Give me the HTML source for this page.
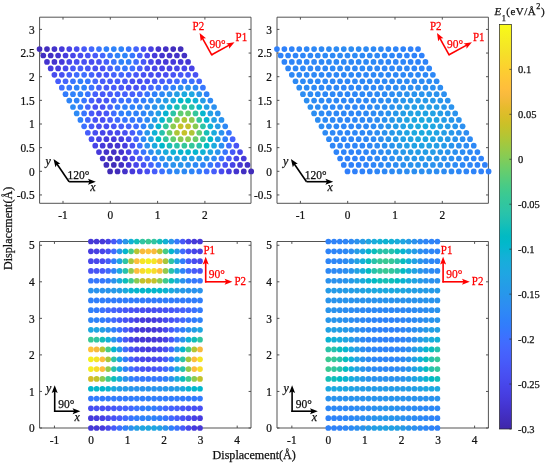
<!DOCTYPE html>
<html><head><meta charset="utf-8"><title>Figure</title>
<style>html,body{margin:0;padding:0;background:#fff}svg{display:block;font-family:"Liberation Serif",serif}text{stroke-width:0.25px;paint-order:stroke}.k text,text.k{stroke:#111;fill:#111}.r text{stroke:#f00}</style>
</head><body>
<svg width="550" height="465" viewBox="0 0 550 465">
<rect width="550" height="465" fill="#fff"/>
<path d="M39.60 17.20H251.00V203.30H39.60ZM63.00 203.30v-2.40M63.00 17.20v2.40M110.30 203.30v-2.40M110.30 17.20v2.40M157.60 203.30v-2.40M157.60 17.20v2.40M204.90 203.30v-2.40M204.90 17.20v2.40M39.60 194.95h2.40M251.00 194.95h-2.40M39.60 171.30h2.40M251.00 171.30h-2.40M39.60 147.65h2.40M251.00 147.65h-2.40M39.60 124.00h2.40M251.00 124.00h-2.40M39.60 100.35h2.40M251.00 100.35h-2.40M39.60 76.70h2.40M251.00 76.70h-2.40M39.60 53.05h2.40M251.00 53.05h-2.40M39.60 29.40h2.40M251.00 29.40h-2.40" fill="none" stroke="#4a4a4a" stroke-width="0.95"/>
<g class="k" font-size="12.20"><text transform="translate(63.00 219.40) scale(0.93 1)" text-anchor="middle">-1</text><text transform="translate(110.30 219.40) scale(0.93 1)" text-anchor="middle">0</text><text transform="translate(157.60 219.40) scale(0.93 1)" text-anchor="middle">1</text><text transform="translate(204.90 219.40) scale(0.93 1)" text-anchor="middle">2</text><text transform="translate(34.60 199.15) scale(0.93 1)" text-anchor="end">-0.5</text><text transform="translate(34.60 175.50) scale(0.93 1)" text-anchor="end">0</text><text transform="translate(34.60 151.85) scale(0.93 1)" text-anchor="end">0.5</text><text transform="translate(34.60 128.20) scale(0.93 1)" text-anchor="end">1</text><text transform="translate(34.60 104.55) scale(0.93 1)" text-anchor="end">1.5</text><text transform="translate(34.60 80.90) scale(0.93 1)" text-anchor="end">2</text><text transform="translate(34.60 57.25) scale(0.93 1)" text-anchor="end">2.5</text><text transform="translate(34.60 33.60) scale(0.93 1)" text-anchor="end">3</text></g>
<g><circle cx="110.10" cy="171.40" r="2.85" fill="#402bb6"/><circle cx="117.53" cy="171.40" r="2.85" fill="#412dbb"/><circle cx="124.95" cy="171.40" r="2.85" fill="#4332c9"/><circle cx="132.38" cy="171.40" r="2.85" fill="#4639da"/><circle cx="139.80" cy="171.40" r="2.85" fill="#4743e7"/><circle cx="147.23" cy="171.40" r="2.85" fill="#484ef1"/><circle cx="154.66" cy="171.40" r="2.85" fill="#465dfb"/><circle cx="162.08" cy="171.40" r="2.85" fill="#3d70ff"/><circle cx="169.51" cy="171.40" r="2.85" fill="#2f81fa"/><circle cx="176.93" cy="171.40" r="2.85" fill="#2d8af5"/><circle cx="184.36" cy="171.40" r="2.85" fill="#2d8af4"/><circle cx="191.79" cy="171.40" r="2.85" fill="#2e85f8"/><circle cx="199.21" cy="171.40" r="2.85" fill="#327cfc"/><circle cx="206.64" cy="171.40" r="2.85" fill="#3f6eff"/><circle cx="214.06" cy="171.40" r="2.85" fill="#465dfb"/><circle cx="221.49" cy="171.40" r="2.85" fill="#484cef"/><circle cx="228.92" cy="171.40" r="2.85" fill="#463ddf"/><circle cx="236.34" cy="171.40" r="2.85" fill="#4434ce"/><circle cx="243.77" cy="171.40" r="2.85" fill="#422fc2"/><circle cx="251.19" cy="171.40" r="2.85" fill="#412cba"/><circle cx="106.39" cy="164.96" r="2.85" fill="#412dbb"/><circle cx="113.81" cy="164.96" r="2.85" fill="#412cba"/><circle cx="121.24" cy="164.96" r="2.85" fill="#4330c5"/><circle cx="128.66" cy="164.96" r="2.85" fill="#4639d9"/><circle cx="136.09" cy="164.96" r="2.85" fill="#4746ea"/><circle cx="143.52" cy="164.96" r="2.85" fill="#4853f5"/><circle cx="150.94" cy="164.96" r="2.85" fill="#4563fd"/><circle cx="158.37" cy="164.96" r="2.85" fill="#3777fe"/><circle cx="165.79" cy="164.96" r="2.85" fill="#2d89f5"/><circle cx="173.22" cy="164.96" r="2.85" fill="#2a93ee"/><circle cx="180.65" cy="164.96" r="2.85" fill="#2994ed"/><circle cx="188.07" cy="164.96" r="2.85" fill="#2c90f0"/><circle cx="195.50" cy="164.96" r="2.85" fill="#2d8af5"/><circle cx="202.92" cy="164.96" r="2.85" fill="#2f83f9"/><circle cx="210.35" cy="164.96" r="2.85" fill="#3777fe"/><circle cx="217.78" cy="164.96" r="2.85" fill="#4466fd"/><circle cx="225.20" cy="164.96" r="2.85" fill="#4853f4"/><circle cx="232.63" cy="164.96" r="2.85" fill="#4742e6"/><circle cx="240.06" cy="164.96" r="2.85" fill="#4537d5"/><circle cx="247.48" cy="164.96" r="2.85" fill="#4330c5"/><circle cx="102.67" cy="158.52" r="2.85" fill="#4332c9"/><circle cx="110.10" cy="158.52" r="2.85" fill="#422ebf"/><circle cx="117.53" cy="158.52" r="2.85" fill="#422fc2"/><circle cx="124.95" cy="158.52" r="2.85" fill="#4537d5"/><circle cx="132.38" cy="158.52" r="2.85" fill="#4746ea"/><circle cx="139.80" cy="158.52" r="2.85" fill="#4759f8"/><circle cx="147.23" cy="158.52" r="2.85" fill="#406dfe"/><circle cx="154.66" cy="158.52" r="2.85" fill="#2f81fa"/><circle cx="162.08" cy="158.52" r="2.85" fill="#2b92ee"/><circle cx="169.51" cy="158.52" r="2.85" fill="#259de7"/><circle cx="176.93" cy="158.52" r="2.85" fill="#23a1e4"/><circle cx="184.36" cy="158.52" r="2.85" fill="#23a0e5"/><circle cx="191.79" cy="158.52" r="2.85" fill="#249ee6"/><circle cx="199.21" cy="158.52" r="2.85" fill="#259ce7"/><circle cx="206.64" cy="158.52" r="2.85" fill="#2796eb"/><circle cx="214.06" cy="158.52" r="2.85" fill="#2d89f5"/><circle cx="221.49" cy="158.52" r="2.85" fill="#3b72fe"/><circle cx="228.92" cy="158.52" r="2.85" fill="#475af9"/><circle cx="236.34" cy="158.52" r="2.85" fill="#4746ea"/><circle cx="243.77" cy="158.52" r="2.85" fill="#4639d9"/><circle cx="98.96" cy="152.09" r="2.85" fill="#4639da"/><circle cx="106.39" cy="152.09" r="2.85" fill="#4433cb"/><circle cx="113.81" cy="152.09" r="2.85" fill="#4330c5"/><circle cx="121.24" cy="152.09" r="2.85" fill="#4434ce"/><circle cx="128.66" cy="152.09" r="2.85" fill="#4742e6"/><circle cx="136.09" cy="152.09" r="2.85" fill="#475af9"/><circle cx="143.52" cy="152.09" r="2.85" fill="#3875fe"/><circle cx="150.94" cy="152.09" r="2.85" fill="#2c8ef1"/><circle cx="158.37" cy="152.09" r="2.85" fill="#239fe5"/><circle cx="165.79" cy="152.09" r="2.85" fill="#1aabdd"/><circle cx="173.22" cy="152.09" r="2.85" fill="#10b2d5"/><circle cx="180.65" cy="152.09" r="2.85" fill="#08b4d0"/><circle cx="188.07" cy="152.09" r="2.85" fill="#06b6ce"/><circle cx="195.50" cy="152.09" r="2.85" fill="#06b5cf"/><circle cx="202.92" cy="152.09" r="2.85" fill="#0fb2d5"/><circle cx="210.35" cy="152.09" r="2.85" fill="#1ea7e1"/><circle cx="217.78" cy="152.09" r="2.85" fill="#2a93ee"/><circle cx="225.20" cy="152.09" r="2.85" fill="#3875fe"/><circle cx="232.63" cy="152.09" r="2.85" fill="#4759f8"/><circle cx="240.05" cy="152.09" r="2.85" fill="#4746ea"/><circle cx="95.25" cy="145.65" r="2.85" fill="#4743e7"/><circle cx="102.67" cy="145.65" r="2.85" fill="#4639da"/><circle cx="110.10" cy="145.65" r="2.85" fill="#4434cf"/><circle cx="117.53" cy="145.65" r="2.85" fill="#4434cf"/><circle cx="124.95" cy="145.65" r="2.85" fill="#463ddf"/><circle cx="132.38" cy="145.65" r="2.85" fill="#4853f4"/><circle cx="139.80" cy="145.65" r="2.85" fill="#3b72fe"/><circle cx="147.23" cy="145.65" r="2.85" fill="#2a93ee"/><circle cx="154.66" cy="145.65" r="2.85" fill="#1caadf"/><circle cx="162.08" cy="145.65" r="2.85" fill="#01b8ca"/><circle cx="169.51" cy="145.65" r="2.85" fill="#17bfb6"/><circle cx="176.93" cy="145.65" r="2.85" fill="#2cc4a6"/><circle cx="184.36" cy="145.65" r="2.85" fill="#34c79b"/><circle cx="191.79" cy="145.65" r="2.85" fill="#34c79c"/><circle cx="199.21" cy="145.65" r="2.85" fill="#28c2ab"/><circle cx="206.64" cy="145.65" r="2.85" fill="#03bbc2"/><circle cx="214.06" cy="145.65" r="2.85" fill="#1caadf"/><circle cx="221.49" cy="145.65" r="2.85" fill="#2c8ef1"/><circle cx="228.92" cy="145.65" r="2.85" fill="#406dfe"/><circle cx="236.34" cy="145.65" r="2.85" fill="#4853f5"/><circle cx="91.53" cy="139.21" r="2.85" fill="#484ef1"/><circle cx="98.96" cy="139.21" r="2.85" fill="#4742e6"/><circle cx="106.39" cy="139.21" r="2.85" fill="#463cde"/><circle cx="113.81" cy="139.21" r="2.85" fill="#463adb"/><circle cx="121.24" cy="139.21" r="2.85" fill="#463ee1"/><circle cx="128.66" cy="139.21" r="2.85" fill="#484cef"/><circle cx="136.09" cy="139.21" r="2.85" fill="#4466fd"/><circle cx="143.52" cy="139.21" r="2.85" fill="#2d89f5"/><circle cx="150.94" cy="139.21" r="2.85" fill="#1ea7e1"/><circle cx="158.37" cy="139.21" r="2.85" fill="#03bbc2"/><circle cx="165.80" cy="139.21" r="2.85" fill="#32c69e"/><circle cx="173.22" cy="139.21" r="2.85" fill="#60cd72"/><circle cx="180.65" cy="139.21" r="2.85" fill="#88cb53"/><circle cx="188.07" cy="139.21" r="2.85" fill="#8dcb4f"/><circle cx="195.50" cy="139.21" r="2.85" fill="#6acd6a"/><circle cx="202.93" cy="139.21" r="2.85" fill="#32c69e"/><circle cx="210.35" cy="139.21" r="2.85" fill="#01b8ca"/><circle cx="217.78" cy="139.21" r="2.85" fill="#239fe5"/><circle cx="225.20" cy="139.21" r="2.85" fill="#2f81fa"/><circle cx="232.63" cy="139.21" r="2.85" fill="#4563fd"/><circle cx="87.82" cy="132.77" r="2.85" fill="#465dfb"/><circle cx="95.25" cy="132.77" r="2.85" fill="#484df0"/><circle cx="102.67" cy="132.77" r="2.85" fill="#4745e9"/><circle cx="110.10" cy="132.77" r="2.85" fill="#4746ea"/><circle cx="117.53" cy="132.77" r="2.85" fill="#4849ed"/><circle cx="124.95" cy="132.77" r="2.85" fill="#4850f2"/><circle cx="132.38" cy="132.77" r="2.85" fill="#465dfb"/><circle cx="139.80" cy="132.77" r="2.85" fill="#3777fe"/><circle cx="147.23" cy="132.77" r="2.85" fill="#2796eb"/><circle cx="154.66" cy="132.77" r="2.85" fill="#0fb2d5"/><circle cx="162.08" cy="132.77" r="2.85" fill="#28c2ab"/><circle cx="169.51" cy="132.77" r="2.85" fill="#6acd6a"/><circle cx="176.93" cy="132.77" r="2.85" fill="#aec637"/><circle cx="184.36" cy="132.77" r="2.85" fill="#c5c22a"/><circle cx="191.79" cy="132.77" r="2.85" fill="#aec637"/><circle cx="199.21" cy="132.77" r="2.85" fill="#60cd72"/><circle cx="206.64" cy="132.77" r="2.85" fill="#17bfb6"/><circle cx="214.06" cy="132.77" r="2.85" fill="#1aabdd"/><circle cx="221.49" cy="132.77" r="2.85" fill="#2b92ee"/><circle cx="228.92" cy="132.77" r="2.85" fill="#3777fe"/><circle cx="84.11" cy="126.33" r="2.85" fill="#3d70ff"/><circle cx="91.53" cy="126.33" r="2.85" fill="#4759f8"/><circle cx="98.96" cy="126.33" r="2.85" fill="#484df0"/><circle cx="106.39" cy="126.33" r="2.85" fill="#484ff2"/><circle cx="113.81" cy="126.33" r="2.85" fill="#4757f7"/><circle cx="121.24" cy="126.33" r="2.85" fill="#465ffb"/><circle cx="128.67" cy="126.33" r="2.85" fill="#4464fd"/><circle cx="136.09" cy="126.33" r="2.85" fill="#3f6eff"/><circle cx="143.52" cy="126.33" r="2.85" fill="#2f83f9"/><circle cx="150.94" cy="126.33" r="2.85" fill="#259ce7"/><circle cx="158.37" cy="126.33" r="2.85" fill="#06b5cf"/><circle cx="165.80" cy="126.33" r="2.85" fill="#34c79c"/><circle cx="173.22" cy="126.33" r="2.85" fill="#8dcb4f"/><circle cx="180.65" cy="126.33" r="2.85" fill="#c5c22a"/><circle cx="188.07" cy="126.33" r="2.85" fill="#c5c22a"/><circle cx="195.50" cy="126.33" r="2.85" fill="#88cb53"/><circle cx="202.93" cy="126.33" r="2.85" fill="#2cc4a6"/><circle cx="210.35" cy="126.33" r="2.85" fill="#10b2d5"/><circle cx="217.78" cy="126.33" r="2.85" fill="#259de7"/><circle cx="225.20" cy="126.33" r="2.85" fill="#2d89f5"/><circle cx="80.40" cy="119.90" r="2.85" fill="#2f81fa"/><circle cx="87.82" cy="119.90" r="2.85" fill="#4367fd"/><circle cx="95.25" cy="119.90" r="2.85" fill="#4853f5"/><circle cx="102.67" cy="119.90" r="2.85" fill="#4850f3"/><circle cx="110.10" cy="119.90" r="2.85" fill="#465dfb"/><circle cx="117.53" cy="119.90" r="2.85" fill="#3f6dfe"/><circle cx="124.95" cy="119.90" r="2.85" fill="#3875fe"/><circle cx="132.38" cy="119.90" r="2.85" fill="#3777fe"/><circle cx="139.80" cy="119.90" r="2.85" fill="#327cfc"/><circle cx="147.23" cy="119.90" r="2.85" fill="#2d8af5"/><circle cx="154.66" cy="119.90" r="2.85" fill="#249ee6"/><circle cx="162.08" cy="119.90" r="2.85" fill="#06b6ce"/><circle cx="169.51" cy="119.90" r="2.85" fill="#34c79b"/><circle cx="176.93" cy="119.90" r="2.85" fill="#88cb53"/><circle cx="184.36" cy="119.90" r="2.85" fill="#aec637"/><circle cx="191.79" cy="119.90" r="2.85" fill="#8dcb4f"/><circle cx="199.21" cy="119.90" r="2.85" fill="#34c79b"/><circle cx="206.64" cy="119.90" r="2.85" fill="#08b4d0"/><circle cx="214.06" cy="119.90" r="2.85" fill="#23a1e4"/><circle cx="221.49" cy="119.90" r="2.85" fill="#2a93ee"/><circle cx="76.68" cy="113.46" r="2.85" fill="#2d8af5"/><circle cx="84.11" cy="113.46" r="2.85" fill="#3975fe"/><circle cx="91.53" cy="113.46" r="2.85" fill="#475af9"/><circle cx="98.96" cy="113.46" r="2.85" fill="#484ef1"/><circle cx="106.39" cy="113.46" r="2.85" fill="#4758f8"/><circle cx="113.81" cy="113.46" r="2.85" fill="#3f6eff"/><circle cx="121.24" cy="113.46" r="2.85" fill="#307ffb"/><circle cx="128.66" cy="113.46" r="2.85" fill="#2e83f9"/><circle cx="136.09" cy="113.46" r="2.85" fill="#2f82fa"/><circle cx="143.52" cy="113.46" r="2.85" fill="#2e85f8"/><circle cx="150.94" cy="113.46" r="2.85" fill="#2c90f0"/><circle cx="158.37" cy="113.46" r="2.85" fill="#23a0e5"/><circle cx="165.79" cy="113.46" r="2.85" fill="#08b4d0"/><circle cx="173.22" cy="113.46" r="2.85" fill="#2cc4a6"/><circle cx="180.65" cy="113.46" r="2.85" fill="#60cd72"/><circle cx="188.07" cy="113.46" r="2.85" fill="#6acd6a"/><circle cx="195.50" cy="113.46" r="2.85" fill="#34c79c"/><circle cx="202.92" cy="113.46" r="2.85" fill="#06b6ce"/><circle cx="210.35" cy="113.46" r="2.85" fill="#23a0e5"/><circle cx="217.78" cy="113.46" r="2.85" fill="#2994ed"/><circle cx="72.97" cy="107.02" r="2.85" fill="#2d8af4"/><circle cx="80.40" cy="107.02" r="2.85" fill="#307ffb"/><circle cx="87.82" cy="107.02" r="2.85" fill="#4466fd"/><circle cx="95.25" cy="107.02" r="2.85" fill="#4851f3"/><circle cx="102.67" cy="107.02" r="2.85" fill="#4850f2"/><circle cx="110.10" cy="107.02" r="2.85" fill="#4562fc"/><circle cx="117.53" cy="107.02" r="2.85" fill="#3678fe"/><circle cx="124.95" cy="107.02" r="2.85" fill="#2f82fa"/><circle cx="132.38" cy="107.02" r="2.85" fill="#2f82fa"/><circle cx="139.80" cy="107.02" r="2.85" fill="#2e83f9"/><circle cx="147.23" cy="107.02" r="2.85" fill="#2d8af4"/><circle cx="154.66" cy="107.02" r="2.85" fill="#2994ed"/><circle cx="162.08" cy="107.02" r="2.85" fill="#23a1e4"/><circle cx="169.51" cy="107.02" r="2.85" fill="#10b2d5"/><circle cx="176.93" cy="107.02" r="2.85" fill="#17bfb6"/><circle cx="184.36" cy="107.02" r="2.85" fill="#32c69e"/><circle cx="191.79" cy="107.02" r="2.85" fill="#28c2ab"/><circle cx="199.21" cy="107.02" r="2.85" fill="#06b5cf"/><circle cx="206.64" cy="107.02" r="2.85" fill="#249ee6"/><circle cx="214.06" cy="107.02" r="2.85" fill="#2c90f0"/><circle cx="69.26" cy="100.58" r="2.85" fill="#2e85f8"/><circle cx="76.68" cy="100.58" r="2.85" fill="#2e83f9"/><circle cx="84.11" cy="100.58" r="2.85" fill="#3876fe"/><circle cx="91.53" cy="100.58" r="2.85" fill="#465ffb"/><circle cx="98.96" cy="100.58" r="2.85" fill="#4852f4"/><circle cx="106.39" cy="100.58" r="2.85" fill="#4757f7"/><circle cx="113.81" cy="100.58" r="2.85" fill="#4466fd"/><circle cx="121.24" cy="100.58" r="2.85" fill="#3c72ff"/><circle cx="128.66" cy="100.58" r="2.85" fill="#3a74fe"/><circle cx="136.09" cy="100.58" r="2.85" fill="#3876fe"/><circle cx="143.52" cy="100.58" r="2.85" fill="#307ffb"/><circle cx="150.94" cy="100.58" r="2.85" fill="#2d8af5"/><circle cx="158.37" cy="100.58" r="2.85" fill="#2a93ee"/><circle cx="165.79" cy="100.58" r="2.85" fill="#259de7"/><circle cx="173.22" cy="100.58" r="2.85" fill="#1aabdd"/><circle cx="180.65" cy="100.58" r="2.85" fill="#01b8ca"/><circle cx="188.07" cy="100.58" r="2.85" fill="#03bbc2"/><circle cx="195.50" cy="100.58" r="2.85" fill="#0fb2d5"/><circle cx="202.93" cy="100.58" r="2.85" fill="#259ce7"/><circle cx="210.35" cy="100.58" r="2.85" fill="#2d8af5"/><circle cx="65.54" cy="94.14" r="2.85" fill="#327cfc"/><circle cx="72.97" cy="94.14" r="2.85" fill="#2f82fa"/><circle cx="80.40" cy="94.14" r="2.85" fill="#2f82fa"/><circle cx="87.82" cy="94.14" r="2.85" fill="#3a74fe"/><circle cx="95.25" cy="94.14" r="2.85" fill="#4660fc"/><circle cx="102.67" cy="94.14" r="2.85" fill="#4758f8"/><circle cx="110.10" cy="94.14" r="2.85" fill="#475cfa"/><circle cx="117.53" cy="94.14" r="2.85" fill="#4561fc"/><circle cx="124.95" cy="94.14" r="2.85" fill="#4660fc"/><circle cx="132.38" cy="94.14" r="2.85" fill="#465ffb"/><circle cx="139.80" cy="94.14" r="2.85" fill="#4466fd"/><circle cx="147.23" cy="94.14" r="2.85" fill="#3975fe"/><circle cx="154.66" cy="94.14" r="2.85" fill="#2f81fa"/><circle cx="162.08" cy="94.14" r="2.85" fill="#2d89f5"/><circle cx="169.51" cy="94.14" r="2.85" fill="#2b92ee"/><circle cx="176.93" cy="94.14" r="2.85" fill="#239fe5"/><circle cx="184.36" cy="94.14" r="2.85" fill="#1caadf"/><circle cx="191.79" cy="94.14" r="2.85" fill="#1ea7e1"/><circle cx="199.21" cy="94.14" r="2.85" fill="#2796eb"/><circle cx="206.64" cy="94.14" r="2.85" fill="#2f83f9"/><circle cx="61.83" cy="87.71" r="2.85" fill="#3f6eff"/><circle cx="69.26" cy="87.71" r="2.85" fill="#3777fe"/><circle cx="76.68" cy="87.71" r="2.85" fill="#2e83f9"/><circle cx="84.11" cy="87.71" r="2.85" fill="#2f82fa"/><circle cx="91.53" cy="87.71" r="2.85" fill="#3c72ff"/><circle cx="98.96" cy="87.71" r="2.85" fill="#4561fc"/><circle cx="106.39" cy="87.71" r="2.85" fill="#475bf9"/><circle cx="113.81" cy="87.71" r="2.85" fill="#475bf9"/><circle cx="121.24" cy="87.71" r="2.85" fill="#4758f8"/><circle cx="128.66" cy="87.71" r="2.85" fill="#4852f4"/><circle cx="136.09" cy="87.71" r="2.85" fill="#4851f3"/><circle cx="143.52" cy="87.71" r="2.85" fill="#475af9"/><circle cx="150.94" cy="87.71" r="2.85" fill="#4367fd"/><circle cx="158.37" cy="87.71" r="2.85" fill="#3d70ff"/><circle cx="165.79" cy="87.71" r="2.85" fill="#3777fe"/><circle cx="173.22" cy="87.71" r="2.85" fill="#2f81fa"/><circle cx="180.65" cy="87.71" r="2.85" fill="#2c8ef1"/><circle cx="188.07" cy="87.71" r="2.85" fill="#2a93ee"/><circle cx="195.50" cy="87.71" r="2.85" fill="#2d89f5"/><circle cx="202.92" cy="87.71" r="2.85" fill="#3777fe"/><circle cx="58.12" cy="81.27" r="2.85" fill="#465dfb"/><circle cx="65.54" cy="81.27" r="2.85" fill="#4464fd"/><circle cx="72.97" cy="81.27" r="2.85" fill="#3875fe"/><circle cx="80.40" cy="81.27" r="2.85" fill="#307ffb"/><circle cx="87.82" cy="81.27" r="2.85" fill="#3678fe"/><circle cx="95.25" cy="81.27" r="2.85" fill="#4466fd"/><circle cx="102.67" cy="81.27" r="2.85" fill="#475cfa"/><circle cx="110.10" cy="81.27" r="2.85" fill="#475bf9"/><circle cx="117.53" cy="81.27" r="2.85" fill="#475cfa"/><circle cx="124.95" cy="81.27" r="2.85" fill="#4757f7"/><circle cx="132.38" cy="81.27" r="2.85" fill="#4850f2"/><circle cx="139.80" cy="81.27" r="2.85" fill="#484ef1"/><circle cx="147.23" cy="81.27" r="2.85" fill="#4853f5"/><circle cx="154.66" cy="81.27" r="2.85" fill="#4759f8"/><circle cx="162.08" cy="81.27" r="2.85" fill="#465dfb"/><circle cx="169.51" cy="81.27" r="2.85" fill="#4563fd"/><circle cx="176.93" cy="81.27" r="2.85" fill="#406dfe"/><circle cx="184.36" cy="81.27" r="2.85" fill="#3875fe"/><circle cx="191.79" cy="81.27" r="2.85" fill="#3b72fe"/><circle cx="199.21" cy="81.27" r="2.85" fill="#4466fd"/><circle cx="54.40" cy="74.83" r="2.85" fill="#484cef"/><circle cx="61.83" cy="74.83" r="2.85" fill="#4850f2"/><circle cx="69.26" cy="74.83" r="2.85" fill="#465ffb"/><circle cx="76.68" cy="74.83" r="2.85" fill="#3f6dfe"/><circle cx="84.11" cy="74.83" r="2.85" fill="#3f6eff"/><circle cx="91.53" cy="74.83" r="2.85" fill="#4562fc"/><circle cx="98.96" cy="74.83" r="2.85" fill="#4757f7"/><circle cx="106.39" cy="74.83" r="2.85" fill="#4758f8"/><circle cx="113.81" cy="74.83" r="2.85" fill="#4561fc"/><circle cx="121.24" cy="74.83" r="2.85" fill="#4466fd"/><circle cx="128.67" cy="74.83" r="2.85" fill="#4562fc"/><circle cx="136.09" cy="74.83" r="2.85" fill="#4758f8"/><circle cx="143.52" cy="74.83" r="2.85" fill="#4850f3"/><circle cx="150.94" cy="74.83" r="2.85" fill="#484df0"/><circle cx="158.37" cy="74.83" r="2.85" fill="#484df0"/><circle cx="165.80" cy="74.83" r="2.85" fill="#484ef1"/><circle cx="173.22" cy="74.83" r="2.85" fill="#4853f5"/><circle cx="180.65" cy="74.83" r="2.85" fill="#4759f8"/><circle cx="188.07" cy="74.83" r="2.85" fill="#475af9"/><circle cx="195.50" cy="74.83" r="2.85" fill="#4853f4"/><circle cx="50.69" cy="68.39" r="2.85" fill="#463ddf"/><circle cx="58.12" cy="68.39" r="2.85" fill="#463ee1"/><circle cx="65.54" cy="68.39" r="2.85" fill="#4849ed"/><circle cx="72.97" cy="68.39" r="2.85" fill="#4757f7"/><circle cx="80.40" cy="68.39" r="2.85" fill="#465dfb"/><circle cx="87.82" cy="68.39" r="2.85" fill="#4758f8"/><circle cx="95.25" cy="68.39" r="2.85" fill="#4850f2"/><circle cx="102.67" cy="68.39" r="2.85" fill="#4852f4"/><circle cx="110.10" cy="68.39" r="2.85" fill="#4660fc"/><circle cx="117.53" cy="68.39" r="2.85" fill="#3c72ff"/><circle cx="124.95" cy="68.39" r="2.85" fill="#3678fe"/><circle cx="132.38" cy="68.39" r="2.85" fill="#3f6eff"/><circle cx="139.80" cy="68.39" r="2.85" fill="#465dfb"/><circle cx="147.23" cy="68.39" r="2.85" fill="#484ff2"/><circle cx="154.66" cy="68.39" r="2.85" fill="#4745e9"/><circle cx="162.08" cy="68.39" r="2.85" fill="#4742e6"/><circle cx="169.51" cy="68.39" r="2.85" fill="#4743e7"/><circle cx="176.93" cy="68.39" r="2.85" fill="#4746ea"/><circle cx="184.36" cy="68.39" r="2.85" fill="#4746ea"/><circle cx="191.79" cy="68.39" r="2.85" fill="#4742e6"/><circle cx="46.98" cy="61.95" r="2.85" fill="#4434ce"/><circle cx="54.40" cy="61.95" r="2.85" fill="#4434cf"/><circle cx="61.83" cy="61.95" r="2.85" fill="#463adb"/><circle cx="69.26" cy="61.95" r="2.85" fill="#4746ea"/><circle cx="76.68" cy="61.95" r="2.85" fill="#484ff2"/><circle cx="84.11" cy="61.95" r="2.85" fill="#4850f3"/><circle cx="91.53" cy="61.95" r="2.85" fill="#484ef1"/><circle cx="98.96" cy="61.95" r="2.85" fill="#4851f3"/><circle cx="106.39" cy="61.95" r="2.85" fill="#465ffb"/><circle cx="113.81" cy="61.95" r="2.85" fill="#3a74fe"/><circle cx="121.24" cy="61.95" r="2.85" fill="#2f82fa"/><circle cx="128.66" cy="61.95" r="2.85" fill="#307ffb"/><circle cx="136.09" cy="61.95" r="2.85" fill="#3f6dfe"/><circle cx="143.52" cy="61.95" r="2.85" fill="#4757f7"/><circle cx="150.94" cy="61.95" r="2.85" fill="#4746ea"/><circle cx="158.37" cy="61.95" r="2.85" fill="#463cde"/><circle cx="165.79" cy="61.95" r="2.85" fill="#4639da"/><circle cx="173.22" cy="61.95" r="2.85" fill="#4639da"/><circle cx="180.65" cy="61.95" r="2.85" fill="#4639d9"/><circle cx="188.07" cy="61.95" r="2.85" fill="#4537d5"/><circle cx="43.27" cy="55.52" r="2.85" fill="#422fc2"/><circle cx="50.69" cy="55.52" r="2.85" fill="#4330c5"/><circle cx="58.12" cy="55.52" r="2.85" fill="#4434cf"/><circle cx="65.54" cy="55.52" r="2.85" fill="#463cde"/><circle cx="72.97" cy="55.52" r="2.85" fill="#4745e9"/><circle cx="80.40" cy="55.52" r="2.85" fill="#484df0"/><circle cx="87.82" cy="55.52" r="2.85" fill="#4853f5"/><circle cx="95.25" cy="55.52" r="2.85" fill="#475af9"/><circle cx="102.67" cy="55.52" r="2.85" fill="#4466fd"/><circle cx="110.10" cy="55.52" r="2.85" fill="#3876fe"/><circle cx="117.53" cy="55.52" r="2.85" fill="#2f82fa"/><circle cx="124.95" cy="55.52" r="2.85" fill="#2e83f9"/><circle cx="132.38" cy="55.52" r="2.85" fill="#3875fe"/><circle cx="139.80" cy="55.52" r="2.85" fill="#465ffb"/><circle cx="147.23" cy="55.52" r="2.85" fill="#4849ed"/><circle cx="154.66" cy="55.52" r="2.85" fill="#463adb"/><circle cx="162.08" cy="55.52" r="2.85" fill="#4434cf"/><circle cx="169.51" cy="55.52" r="2.85" fill="#4433cb"/><circle cx="176.93" cy="55.52" r="2.85" fill="#4332c9"/><circle cx="184.36" cy="55.52" r="2.85" fill="#4330c5"/><circle cx="39.55" cy="49.08" r="2.85" fill="#412cba"/><circle cx="46.98" cy="49.08" r="2.85" fill="#422ebf"/><circle cx="54.41" cy="49.08" r="2.85" fill="#4433cb"/><circle cx="61.83" cy="49.08" r="2.85" fill="#4639da"/><circle cx="69.26" cy="49.08" r="2.85" fill="#4742e6"/><circle cx="76.68" cy="49.08" r="2.85" fill="#484df0"/><circle cx="84.11" cy="49.08" r="2.85" fill="#4759f8"/><circle cx="91.53" cy="49.08" r="2.85" fill="#4367fd"/><circle cx="98.96" cy="49.08" r="2.85" fill="#3975fe"/><circle cx="106.39" cy="49.08" r="2.85" fill="#307ffb"/><circle cx="113.81" cy="49.08" r="2.85" fill="#2e83f9"/><circle cx="121.24" cy="49.08" r="2.85" fill="#2f82fa"/><circle cx="128.66" cy="49.08" r="2.85" fill="#3777fe"/><circle cx="136.09" cy="49.08" r="2.85" fill="#4464fd"/><circle cx="143.52" cy="49.08" r="2.85" fill="#4850f2"/><circle cx="150.94" cy="49.08" r="2.85" fill="#463ee1"/><circle cx="158.37" cy="49.08" r="2.85" fill="#4434cf"/><circle cx="165.79" cy="49.08" r="2.85" fill="#4330c5"/><circle cx="173.22" cy="49.08" r="2.85" fill="#422ebf"/><circle cx="180.65" cy="49.08" r="2.85" fill="#412dbb"/></g>
<path d="M277.00 17.20H488.40V203.30H277.00ZM300.40 203.30v-2.40M300.40 17.20v2.40M347.70 203.30v-2.40M347.70 17.20v2.40M395.00 203.30v-2.40M395.00 17.20v2.40M442.30 203.30v-2.40M442.30 17.20v2.40M277.00 194.95h2.40M488.40 194.95h-2.40M277.00 171.30h2.40M488.40 171.30h-2.40M277.00 147.65h2.40M488.40 147.65h-2.40M277.00 124.00h2.40M488.40 124.00h-2.40M277.00 100.35h2.40M488.40 100.35h-2.40M277.00 76.70h2.40M488.40 76.70h-2.40M277.00 53.05h2.40M488.40 53.05h-2.40M277.00 29.40h2.40M488.40 29.40h-2.40" fill="none" stroke="#4a4a4a" stroke-width="0.95"/>
<g class="k" font-size="12.20"><text transform="translate(300.40 219.40) scale(0.93 1)" text-anchor="middle">-1</text><text transform="translate(347.70 219.40) scale(0.93 1)" text-anchor="middle">0</text><text transform="translate(395.00 219.40) scale(0.93 1)" text-anchor="middle">1</text><text transform="translate(442.30 219.40) scale(0.93 1)" text-anchor="middle">2</text><text transform="translate(272.00 199.15) scale(0.93 1)" text-anchor="end">-0.5</text><text transform="translate(272.00 175.50) scale(0.93 1)" text-anchor="end">0</text><text transform="translate(272.00 151.85) scale(0.93 1)" text-anchor="end">0.5</text><text transform="translate(272.00 128.20) scale(0.93 1)" text-anchor="end">1</text><text transform="translate(272.00 104.55) scale(0.93 1)" text-anchor="end">1.5</text><text transform="translate(272.00 80.90) scale(0.93 1)" text-anchor="end">2</text><text transform="translate(272.00 57.25) scale(0.93 1)" text-anchor="end">2.5</text><text transform="translate(272.00 33.60) scale(0.93 1)" text-anchor="end">3</text></g>
<g><circle cx="347.50" cy="171.40" r="2.85" fill="#307ffb"/><circle cx="354.93" cy="171.40" r="2.85" fill="#2f80fa"/><circle cx="362.35" cy="171.40" r="2.85" fill="#2f82fa"/><circle cx="369.78" cy="171.40" r="2.85" fill="#2e84f9"/><circle cx="377.20" cy="171.40" r="2.85" fill="#2e86f7"/><circle cx="384.63" cy="171.40" r="2.85" fill="#2d88f6"/><circle cx="392.06" cy="171.40" r="2.85" fill="#2d8af4"/><circle cx="399.48" cy="171.40" r="2.85" fill="#2d8cf3"/><circle cx="406.91" cy="171.40" r="2.85" fill="#2d8df2"/><circle cx="414.33" cy="171.40" r="2.85" fill="#2c8ef1"/><circle cx="421.76" cy="171.40" r="2.85" fill="#2c8ff1"/><circle cx="429.19" cy="171.40" r="2.85" fill="#2c8ef1"/><circle cx="436.61" cy="171.40" r="2.85" fill="#2d8df2"/><circle cx="444.04" cy="171.40" r="2.85" fill="#2d8cf3"/><circle cx="451.46" cy="171.40" r="2.85" fill="#2d8af4"/><circle cx="458.89" cy="171.40" r="2.85" fill="#2d88f6"/><circle cx="466.32" cy="171.40" r="2.85" fill="#2e86f7"/><circle cx="473.74" cy="171.40" r="2.85" fill="#2e84f9"/><circle cx="481.17" cy="171.40" r="2.85" fill="#2f82fa"/><circle cx="488.59" cy="171.40" r="2.85" fill="#2f80fa"/><circle cx="343.79" cy="164.96" r="2.85" fill="#2f80fa"/><circle cx="351.21" cy="164.96" r="2.85" fill="#2f80fa"/><circle cx="358.64" cy="164.96" r="2.85" fill="#2f81fa"/><circle cx="366.06" cy="164.96" r="2.85" fill="#2e83f9"/><circle cx="373.49" cy="164.96" r="2.85" fill="#2e86f8"/><circle cx="380.92" cy="164.96" r="2.85" fill="#2d88f6"/><circle cx="388.34" cy="164.96" r="2.85" fill="#2d8bf4"/><circle cx="395.77" cy="164.96" r="2.85" fill="#2d8df2"/><circle cx="403.19" cy="164.96" r="2.85" fill="#2c90f0"/><circle cx="410.62" cy="164.96" r="2.85" fill="#2b92ee"/><circle cx="418.05" cy="164.96" r="2.85" fill="#2a93ee"/><circle cx="425.47" cy="164.96" r="2.85" fill="#2a93ee"/><circle cx="432.90" cy="164.96" r="2.85" fill="#2b92ee"/><circle cx="440.32" cy="164.96" r="2.85" fill="#2c90f0"/><circle cx="447.75" cy="164.96" r="2.85" fill="#2d8df2"/><circle cx="455.18" cy="164.96" r="2.85" fill="#2d8bf4"/><circle cx="462.60" cy="164.96" r="2.85" fill="#2d88f6"/><circle cx="470.03" cy="164.96" r="2.85" fill="#2e86f8"/><circle cx="477.45" cy="164.96" r="2.85" fill="#2e83f9"/><circle cx="484.88" cy="164.96" r="2.85" fill="#2f81fa"/><circle cx="340.07" cy="158.52" r="2.85" fill="#2f82fa"/><circle cx="347.50" cy="158.52" r="2.85" fill="#2f81fa"/><circle cx="354.93" cy="158.52" r="2.85" fill="#2f82fa"/><circle cx="362.35" cy="158.52" r="2.85" fill="#2e83f9"/><circle cx="369.78" cy="158.52" r="2.85" fill="#2e86f8"/><circle cx="377.20" cy="158.52" r="2.85" fill="#2d88f6"/><circle cx="384.63" cy="158.52" r="2.85" fill="#2d8bf3"/><circle cx="392.06" cy="158.52" r="2.85" fill="#2c8ff1"/><circle cx="399.48" cy="158.52" r="2.85" fill="#2b92ee"/><circle cx="406.91" cy="158.52" r="2.85" fill="#2895ec"/><circle cx="414.33" cy="158.52" r="2.85" fill="#2797ea"/><circle cx="421.76" cy="158.52" r="2.85" fill="#2798ea"/><circle cx="429.19" cy="158.52" r="2.85" fill="#2797ea"/><circle cx="436.61" cy="158.52" r="2.85" fill="#2895ec"/><circle cx="444.04" cy="158.52" r="2.85" fill="#2b92ee"/><circle cx="451.46" cy="158.52" r="2.85" fill="#2c8ff1"/><circle cx="458.89" cy="158.52" r="2.85" fill="#2d8bf3"/><circle cx="466.32" cy="158.52" r="2.85" fill="#2d88f6"/><circle cx="473.74" cy="158.52" r="2.85" fill="#2e86f8"/><circle cx="481.17" cy="158.52" r="2.85" fill="#2e83f9"/><circle cx="336.36" cy="152.09" r="2.85" fill="#2e84f9"/><circle cx="343.79" cy="152.09" r="2.85" fill="#2e83f9"/><circle cx="351.21" cy="152.09" r="2.85" fill="#2e83f9"/><circle cx="358.64" cy="152.09" r="2.85" fill="#2e84f9"/><circle cx="366.06" cy="152.09" r="2.85" fill="#2e86f8"/><circle cx="373.49" cy="152.09" r="2.85" fill="#2d88f6"/><circle cx="380.92" cy="152.09" r="2.85" fill="#2d8cf3"/><circle cx="388.34" cy="152.09" r="2.85" fill="#2c8ff0"/><circle cx="395.77" cy="152.09" r="2.85" fill="#2994ed"/><circle cx="403.19" cy="152.09" r="2.85" fill="#2798ea"/><circle cx="410.62" cy="152.09" r="2.85" fill="#259ce7"/><circle cx="418.05" cy="152.09" r="2.85" fill="#249de6"/><circle cx="425.47" cy="152.09" r="2.85" fill="#249de6"/><circle cx="432.90" cy="152.09" r="2.85" fill="#259ce7"/><circle cx="440.32" cy="152.09" r="2.85" fill="#2798ea"/><circle cx="447.75" cy="152.09" r="2.85" fill="#2994ed"/><circle cx="455.18" cy="152.09" r="2.85" fill="#2c8ff0"/><circle cx="462.60" cy="152.09" r="2.85" fill="#2d8cf3"/><circle cx="470.03" cy="152.09" r="2.85" fill="#2d88f6"/><circle cx="477.45" cy="152.09" r="2.85" fill="#2e86f8"/><circle cx="332.65" cy="145.65" r="2.85" fill="#2e86f7"/><circle cx="340.07" cy="145.65" r="2.85" fill="#2e85f8"/><circle cx="347.50" cy="145.65" r="2.85" fill="#2e84f8"/><circle cx="354.93" cy="145.65" r="2.85" fill="#2e85f8"/><circle cx="362.35" cy="145.65" r="2.85" fill="#2e86f7"/><circle cx="369.78" cy="145.65" r="2.85" fill="#2d88f6"/><circle cx="377.20" cy="145.65" r="2.85" fill="#2d8bf3"/><circle cx="384.63" cy="145.65" r="2.85" fill="#2c8ff0"/><circle cx="392.06" cy="145.65" r="2.85" fill="#2994ed"/><circle cx="399.48" cy="145.65" r="2.85" fill="#269ae9"/><circle cx="406.91" cy="145.65" r="2.85" fill="#249ee6"/><circle cx="414.33" cy="145.65" r="2.85" fill="#22a2e4"/><circle cx="421.76" cy="145.65" r="2.85" fill="#21a3e3"/><circle cx="429.19" cy="145.65" r="2.85" fill="#22a2e4"/><circle cx="436.61" cy="145.65" r="2.85" fill="#249ee6"/><circle cx="444.04" cy="145.65" r="2.85" fill="#269ae9"/><circle cx="451.46" cy="145.65" r="2.85" fill="#2994ed"/><circle cx="458.89" cy="145.65" r="2.85" fill="#2c8ff0"/><circle cx="466.32" cy="145.65" r="2.85" fill="#2d8bf3"/><circle cx="473.74" cy="145.65" r="2.85" fill="#2d88f6"/><circle cx="328.94" cy="139.21" r="2.85" fill="#2d88f6"/><circle cx="336.36" cy="139.21" r="2.85" fill="#2e87f7"/><circle cx="343.79" cy="139.21" r="2.85" fill="#2e86f8"/><circle cx="351.21" cy="139.21" r="2.85" fill="#2e86f8"/><circle cx="358.64" cy="139.21" r="2.85" fill="#2e87f7"/><circle cx="366.06" cy="139.21" r="2.85" fill="#2d88f6"/><circle cx="373.49" cy="139.21" r="2.85" fill="#2d8bf4"/><circle cx="380.92" cy="139.21" r="2.85" fill="#2c8ff1"/><circle cx="388.34" cy="139.21" r="2.85" fill="#2994ed"/><circle cx="395.77" cy="139.21" r="2.85" fill="#269ae9"/><circle cx="403.19" cy="139.21" r="2.85" fill="#23a0e5"/><circle cx="410.62" cy="139.21" r="2.85" fill="#20a4e3"/><circle cx="418.05" cy="139.21" r="2.85" fill="#1ea7e1"/><circle cx="425.47" cy="139.21" r="2.85" fill="#1ea7e1"/><circle cx="432.90" cy="139.21" r="2.85" fill="#20a4e3"/><circle cx="440.32" cy="139.21" r="2.85" fill="#23a0e5"/><circle cx="447.75" cy="139.21" r="2.85" fill="#269ae9"/><circle cx="455.18" cy="139.21" r="2.85" fill="#2994ed"/><circle cx="462.60" cy="139.21" r="2.85" fill="#2c8ff1"/><circle cx="470.03" cy="139.21" r="2.85" fill="#2d8bf4"/><circle cx="325.22" cy="132.77" r="2.85" fill="#2d8af4"/><circle cx="332.65" cy="132.77" r="2.85" fill="#2d88f6"/><circle cx="340.07" cy="132.77" r="2.85" fill="#2e87f7"/><circle cx="347.50" cy="132.77" r="2.85" fill="#2e86f7"/><circle cx="354.93" cy="132.77" r="2.85" fill="#2e87f7"/><circle cx="362.35" cy="132.77" r="2.85" fill="#2d88f6"/><circle cx="369.78" cy="132.77" r="2.85" fill="#2d8af4"/><circle cx="377.20" cy="132.77" r="2.85" fill="#2d8df2"/><circle cx="384.63" cy="132.77" r="2.85" fill="#2b92ee"/><circle cx="392.06" cy="132.77" r="2.85" fill="#2798ea"/><circle cx="399.48" cy="132.77" r="2.85" fill="#249ee6"/><circle cx="406.91" cy="132.77" r="2.85" fill="#20a4e3"/><circle cx="414.33" cy="132.77" r="2.85" fill="#1da9e0"/><circle cx="421.76" cy="132.77" r="2.85" fill="#1baadf"/><circle cx="429.19" cy="132.77" r="2.85" fill="#1da9e0"/><circle cx="436.61" cy="132.77" r="2.85" fill="#20a4e3"/><circle cx="444.04" cy="132.77" r="2.85" fill="#249ee6"/><circle cx="451.46" cy="132.77" r="2.85" fill="#2798ea"/><circle cx="458.89" cy="132.77" r="2.85" fill="#2b92ee"/><circle cx="466.32" cy="132.77" r="2.85" fill="#2d8df2"/><circle cx="321.51" cy="126.33" r="2.85" fill="#2d8cf3"/><circle cx="328.94" cy="126.33" r="2.85" fill="#2d89f5"/><circle cx="336.36" cy="126.33" r="2.85" fill="#2d88f6"/><circle cx="343.79" cy="126.33" r="2.85" fill="#2e87f7"/><circle cx="351.21" cy="126.33" r="2.85" fill="#2e87f7"/><circle cx="358.64" cy="126.33" r="2.85" fill="#2d88f6"/><circle cx="366.06" cy="126.33" r="2.85" fill="#2d89f5"/><circle cx="373.49" cy="126.33" r="2.85" fill="#2d8cf3"/><circle cx="380.92" cy="126.33" r="2.85" fill="#2c90f0"/><circle cx="388.34" cy="126.33" r="2.85" fill="#2895ec"/><circle cx="395.77" cy="126.33" r="2.85" fill="#259ce7"/><circle cx="403.20" cy="126.33" r="2.85" fill="#22a2e4"/><circle cx="410.62" cy="126.33" r="2.85" fill="#1ea7e1"/><circle cx="418.05" cy="126.33" r="2.85" fill="#1baadf"/><circle cx="425.47" cy="126.33" r="2.85" fill="#1baadf"/><circle cx="432.90" cy="126.33" r="2.85" fill="#1ea7e1"/><circle cx="440.33" cy="126.33" r="2.85" fill="#22a2e4"/><circle cx="447.75" cy="126.33" r="2.85" fill="#259ce7"/><circle cx="455.18" cy="126.33" r="2.85" fill="#2895ec"/><circle cx="462.60" cy="126.33" r="2.85" fill="#2c90f0"/><circle cx="317.80" cy="119.90" r="2.85" fill="#2d8df2"/><circle cx="325.22" cy="119.90" r="2.85" fill="#2d8af4"/><circle cx="332.65" cy="119.90" r="2.85" fill="#2d89f6"/><circle cx="340.07" cy="119.90" r="2.85" fill="#2d88f6"/><circle cx="347.50" cy="119.90" r="2.85" fill="#2e87f7"/><circle cx="354.93" cy="119.90" r="2.85" fill="#2d88f6"/><circle cx="362.35" cy="119.90" r="2.85" fill="#2d89f6"/><circle cx="369.78" cy="119.90" r="2.85" fill="#2d8af4"/><circle cx="377.20" cy="119.90" r="2.85" fill="#2d8df2"/><circle cx="384.63" cy="119.90" r="2.85" fill="#2b92ee"/><circle cx="392.06" cy="119.90" r="2.85" fill="#2797ea"/><circle cx="399.48" cy="119.90" r="2.85" fill="#249de6"/><circle cx="406.91" cy="119.90" r="2.85" fill="#21a3e3"/><circle cx="414.33" cy="119.90" r="2.85" fill="#1ea7e1"/><circle cx="421.76" cy="119.90" r="2.85" fill="#1da9e0"/><circle cx="429.19" cy="119.90" r="2.85" fill="#1ea7e1"/><circle cx="436.61" cy="119.90" r="2.85" fill="#21a3e3"/><circle cx="444.04" cy="119.90" r="2.85" fill="#249de6"/><circle cx="451.46" cy="119.90" r="2.85" fill="#2797ea"/><circle cx="458.89" cy="119.90" r="2.85" fill="#2b92ee"/><circle cx="314.08" cy="113.46" r="2.85" fill="#2c8ef1"/><circle cx="321.51" cy="113.46" r="2.85" fill="#2d8bf4"/><circle cx="328.93" cy="113.46" r="2.85" fill="#2d89f5"/><circle cx="336.36" cy="113.46" r="2.85" fill="#2d88f6"/><circle cx="343.79" cy="113.46" r="2.85" fill="#2d87f6"/><circle cx="351.21" cy="113.46" r="2.85" fill="#2d87f6"/><circle cx="358.64" cy="113.46" r="2.85" fill="#2d88f6"/><circle cx="366.06" cy="113.46" r="2.85" fill="#2d89f5"/><circle cx="373.49" cy="113.46" r="2.85" fill="#2d8bf4"/><circle cx="380.92" cy="113.46" r="2.85" fill="#2c8ef1"/><circle cx="388.34" cy="113.46" r="2.85" fill="#2a93ee"/><circle cx="395.77" cy="113.46" r="2.85" fill="#2798ea"/><circle cx="403.19" cy="113.46" r="2.85" fill="#249de6"/><circle cx="410.62" cy="113.46" r="2.85" fill="#22a2e4"/><circle cx="418.05" cy="113.46" r="2.85" fill="#20a4e3"/><circle cx="425.47" cy="113.46" r="2.85" fill="#20a4e3"/><circle cx="432.90" cy="113.46" r="2.85" fill="#22a2e4"/><circle cx="440.33" cy="113.46" r="2.85" fill="#249de6"/><circle cx="447.75" cy="113.46" r="2.85" fill="#2798ea"/><circle cx="455.18" cy="113.46" r="2.85" fill="#2a93ee"/><circle cx="310.37" cy="107.02" r="2.85" fill="#2c8ff1"/><circle cx="317.80" cy="107.02" r="2.85" fill="#2d8cf3"/><circle cx="325.22" cy="107.02" r="2.85" fill="#2d8af5"/><circle cx="332.65" cy="107.02" r="2.85" fill="#2d88f6"/><circle cx="340.07" cy="107.02" r="2.85" fill="#2d88f6"/><circle cx="347.50" cy="107.02" r="2.85" fill="#2d87f7"/><circle cx="354.93" cy="107.02" r="2.85" fill="#2d88f6"/><circle cx="362.35" cy="107.02" r="2.85" fill="#2d88f6"/><circle cx="369.78" cy="107.02" r="2.85" fill="#2d8af5"/><circle cx="377.20" cy="107.02" r="2.85" fill="#2d8cf3"/><circle cx="384.63" cy="107.02" r="2.85" fill="#2c8ff1"/><circle cx="392.06" cy="107.02" r="2.85" fill="#2a93ee"/><circle cx="399.48" cy="107.02" r="2.85" fill="#2797ea"/><circle cx="406.91" cy="107.02" r="2.85" fill="#259ce7"/><circle cx="414.33" cy="107.02" r="2.85" fill="#249ee6"/><circle cx="421.76" cy="107.02" r="2.85" fill="#23a0e5"/><circle cx="429.19" cy="107.02" r="2.85" fill="#249ee6"/><circle cx="436.61" cy="107.02" r="2.85" fill="#259ce7"/><circle cx="444.04" cy="107.02" r="2.85" fill="#2797ea"/><circle cx="451.46" cy="107.02" r="2.85" fill="#2a93ee"/><circle cx="306.66" cy="100.58" r="2.85" fill="#2c8ef1"/><circle cx="314.08" cy="100.58" r="2.85" fill="#2d8cf3"/><circle cx="321.51" cy="100.58" r="2.85" fill="#2d8af5"/><circle cx="328.94" cy="100.58" r="2.85" fill="#2d88f6"/><circle cx="336.36" cy="100.58" r="2.85" fill="#2d88f6"/><circle cx="343.79" cy="100.58" r="2.85" fill="#2d87f6"/><circle cx="351.21" cy="100.58" r="2.85" fill="#2d87f6"/><circle cx="358.64" cy="100.58" r="2.85" fill="#2d88f6"/><circle cx="366.06" cy="100.58" r="2.85" fill="#2d88f6"/><circle cx="373.49" cy="100.58" r="2.85" fill="#2d8af5"/><circle cx="380.92" cy="100.58" r="2.85" fill="#2d8cf3"/><circle cx="388.34" cy="100.58" r="2.85" fill="#2c8ef1"/><circle cx="395.77" cy="100.58" r="2.85" fill="#2b92ee"/><circle cx="403.19" cy="100.58" r="2.85" fill="#2895ec"/><circle cx="410.62" cy="100.58" r="2.85" fill="#2798ea"/><circle cx="418.05" cy="100.58" r="2.85" fill="#269ae9"/><circle cx="425.47" cy="100.58" r="2.85" fill="#269ae9"/><circle cx="432.90" cy="100.58" r="2.85" fill="#2798ea"/><circle cx="440.32" cy="100.58" r="2.85" fill="#2895ec"/><circle cx="447.75" cy="100.58" r="2.85" fill="#2b92ee"/><circle cx="302.94" cy="94.14" r="2.85" fill="#2d8df2"/><circle cx="310.37" cy="94.14" r="2.85" fill="#2d8bf4"/><circle cx="317.80" cy="94.14" r="2.85" fill="#2d8af5"/><circle cx="325.22" cy="94.14" r="2.85" fill="#2d88f6"/><circle cx="332.65" cy="94.14" r="2.85" fill="#2d88f6"/><circle cx="340.07" cy="94.14" r="2.85" fill="#2d87f6"/><circle cx="347.50" cy="94.14" r="2.85" fill="#2d87f7"/><circle cx="354.93" cy="94.14" r="2.85" fill="#2d87f6"/><circle cx="362.35" cy="94.14" r="2.85" fill="#2d88f6"/><circle cx="369.78" cy="94.14" r="2.85" fill="#2d88f6"/><circle cx="377.20" cy="94.14" r="2.85" fill="#2d8af5"/><circle cx="384.63" cy="94.14" r="2.85" fill="#2d8bf4"/><circle cx="392.06" cy="94.14" r="2.85" fill="#2d8df2"/><circle cx="399.48" cy="94.14" r="2.85" fill="#2c90f0"/><circle cx="406.91" cy="94.14" r="2.85" fill="#2b92ee"/><circle cx="414.33" cy="94.14" r="2.85" fill="#2994ed"/><circle cx="421.76" cy="94.14" r="2.85" fill="#2994ed"/><circle cx="429.19" cy="94.14" r="2.85" fill="#2994ed"/><circle cx="436.61" cy="94.14" r="2.85" fill="#2b92ee"/><circle cx="444.04" cy="94.14" r="2.85" fill="#2c90f0"/><circle cx="299.23" cy="87.71" r="2.85" fill="#2d8cf3"/><circle cx="306.66" cy="87.71" r="2.85" fill="#2d8af4"/><circle cx="314.08" cy="87.71" r="2.85" fill="#2d89f5"/><circle cx="321.51" cy="87.71" r="2.85" fill="#2d88f6"/><circle cx="328.94" cy="87.71" r="2.85" fill="#2d88f6"/><circle cx="336.36" cy="87.71" r="2.85" fill="#2d87f6"/><circle cx="343.79" cy="87.71" r="2.85" fill="#2d87f7"/><circle cx="351.21" cy="87.71" r="2.85" fill="#2d87f7"/><circle cx="358.64" cy="87.71" r="2.85" fill="#2d87f6"/><circle cx="366.06" cy="87.71" r="2.85" fill="#2d88f6"/><circle cx="373.49" cy="87.71" r="2.85" fill="#2d88f6"/><circle cx="380.92" cy="87.71" r="2.85" fill="#2d89f5"/><circle cx="388.34" cy="87.71" r="2.85" fill="#2d8af4"/><circle cx="395.77" cy="87.71" r="2.85" fill="#2d8cf3"/><circle cx="403.19" cy="87.71" r="2.85" fill="#2d8df2"/><circle cx="410.62" cy="87.71" r="2.85" fill="#2c8ff1"/><circle cx="418.05" cy="87.71" r="2.85" fill="#2c8ff0"/><circle cx="425.47" cy="87.71" r="2.85" fill="#2c8ff0"/><circle cx="432.90" cy="87.71" r="2.85" fill="#2c8ff1"/><circle cx="440.32" cy="87.71" r="2.85" fill="#2d8df2"/><circle cx="295.52" cy="81.27" r="2.85" fill="#2d8af4"/><circle cx="302.94" cy="81.27" r="2.85" fill="#2d89f5"/><circle cx="310.37" cy="81.27" r="2.85" fill="#2d89f6"/><circle cx="317.80" cy="81.27" r="2.85" fill="#2d88f6"/><circle cx="325.22" cy="81.27" r="2.85" fill="#2d88f6"/><circle cx="332.65" cy="81.27" r="2.85" fill="#2d87f6"/><circle cx="340.07" cy="81.27" r="2.85" fill="#2d87f7"/><circle cx="347.50" cy="81.27" r="2.85" fill="#2d87f7"/><circle cx="354.93" cy="81.27" r="2.85" fill="#2d87f7"/><circle cx="362.35" cy="81.27" r="2.85" fill="#2d87f6"/><circle cx="369.78" cy="81.27" r="2.85" fill="#2d88f6"/><circle cx="377.20" cy="81.27" r="2.85" fill="#2d88f6"/><circle cx="384.63" cy="81.27" r="2.85" fill="#2d89f6"/><circle cx="392.06" cy="81.27" r="2.85" fill="#2d89f5"/><circle cx="399.48" cy="81.27" r="2.85" fill="#2d8af4"/><circle cx="406.91" cy="81.27" r="2.85" fill="#2d8bf4"/><circle cx="414.33" cy="81.27" r="2.85" fill="#2d8bf3"/><circle cx="421.76" cy="81.27" r="2.85" fill="#2d8cf3"/><circle cx="429.19" cy="81.27" r="2.85" fill="#2d8bf3"/><circle cx="436.61" cy="81.27" r="2.85" fill="#2d8bf4"/><circle cx="291.81" cy="74.83" r="2.85" fill="#2d88f6"/><circle cx="299.23" cy="74.83" r="2.85" fill="#2d88f6"/><circle cx="306.66" cy="74.83" r="2.85" fill="#2d88f6"/><circle cx="314.08" cy="74.83" r="2.85" fill="#2d88f6"/><circle cx="321.51" cy="74.83" r="2.85" fill="#2d87f6"/><circle cx="328.94" cy="74.83" r="2.85" fill="#2d87f7"/><circle cx="336.36" cy="74.83" r="2.85" fill="#2d87f6"/><circle cx="343.79" cy="74.83" r="2.85" fill="#2d87f6"/><circle cx="351.21" cy="74.83" r="2.85" fill="#2d87f6"/><circle cx="358.64" cy="74.83" r="2.85" fill="#2d87f6"/><circle cx="366.06" cy="74.83" r="2.85" fill="#2d87f7"/><circle cx="373.49" cy="74.83" r="2.85" fill="#2d87f6"/><circle cx="380.92" cy="74.83" r="2.85" fill="#2d88f6"/><circle cx="388.34" cy="74.83" r="2.85" fill="#2d88f6"/><circle cx="395.77" cy="74.83" r="2.85" fill="#2d88f6"/><circle cx="403.19" cy="74.83" r="2.85" fill="#2d88f6"/><circle cx="410.62" cy="74.83" r="2.85" fill="#2d88f6"/><circle cx="418.05" cy="74.83" r="2.85" fill="#2d88f6"/><circle cx="425.47" cy="74.83" r="2.85" fill="#2d88f6"/><circle cx="432.90" cy="74.83" r="2.85" fill="#2d88f6"/><circle cx="288.09" cy="68.39" r="2.85" fill="#2e86f7"/><circle cx="295.52" cy="68.39" r="2.85" fill="#2e87f7"/><circle cx="302.94" cy="68.39" r="2.85" fill="#2e87f7"/><circle cx="310.37" cy="68.39" r="2.85" fill="#2e87f7"/><circle cx="317.80" cy="68.39" r="2.85" fill="#2e87f7"/><circle cx="325.22" cy="68.39" r="2.85" fill="#2d87f6"/><circle cx="332.65" cy="68.39" r="2.85" fill="#2d88f6"/><circle cx="340.07" cy="68.39" r="2.85" fill="#2d88f6"/><circle cx="347.50" cy="68.39" r="2.85" fill="#2d88f6"/><circle cx="354.93" cy="68.39" r="2.85" fill="#2d88f6"/><circle cx="362.35" cy="68.39" r="2.85" fill="#2d88f6"/><circle cx="369.78" cy="68.39" r="2.85" fill="#2d87f6"/><circle cx="377.20" cy="68.39" r="2.85" fill="#2e87f7"/><circle cx="384.63" cy="68.39" r="2.85" fill="#2e87f7"/><circle cx="392.06" cy="68.39" r="2.85" fill="#2e87f7"/><circle cx="399.48" cy="68.39" r="2.85" fill="#2e87f7"/><circle cx="406.91" cy="68.39" r="2.85" fill="#2e86f7"/><circle cx="414.33" cy="68.39" r="2.85" fill="#2e86f8"/><circle cx="421.76" cy="68.39" r="2.85" fill="#2e86f8"/><circle cx="429.19" cy="68.39" r="2.85" fill="#2e86f8"/><circle cx="284.38" cy="61.95" r="2.85" fill="#2e84f9"/><circle cx="291.81" cy="61.95" r="2.85" fill="#2e85f8"/><circle cx="299.23" cy="61.95" r="2.85" fill="#2e86f8"/><circle cx="306.66" cy="61.95" r="2.85" fill="#2e86f7"/><circle cx="314.08" cy="61.95" r="2.85" fill="#2e87f7"/><circle cx="321.51" cy="61.95" r="2.85" fill="#2d88f6"/><circle cx="328.94" cy="61.95" r="2.85" fill="#2d88f6"/><circle cx="336.36" cy="61.95" r="2.85" fill="#2d88f6"/><circle cx="343.79" cy="61.95" r="2.85" fill="#2d88f6"/><circle cx="351.21" cy="61.95" r="2.85" fill="#2d88f6"/><circle cx="358.64" cy="61.95" r="2.85" fill="#2d88f6"/><circle cx="366.07" cy="61.95" r="2.85" fill="#2d88f6"/><circle cx="373.49" cy="61.95" r="2.85" fill="#2d88f6"/><circle cx="380.92" cy="61.95" r="2.85" fill="#2e87f7"/><circle cx="388.34" cy="61.95" r="2.85" fill="#2e86f7"/><circle cx="395.77" cy="61.95" r="2.85" fill="#2e86f8"/><circle cx="403.20" cy="61.95" r="2.85" fill="#2e85f8"/><circle cx="410.62" cy="61.95" r="2.85" fill="#2e84f9"/><circle cx="418.05" cy="61.95" r="2.85" fill="#2e83f9"/><circle cx="425.47" cy="61.95" r="2.85" fill="#2e83f9"/><circle cx="280.67" cy="55.52" r="2.85" fill="#2f82fa"/><circle cx="288.09" cy="55.52" r="2.85" fill="#2e83f9"/><circle cx="295.52" cy="55.52" r="2.85" fill="#2e84f8"/><circle cx="302.94" cy="55.52" r="2.85" fill="#2e86f8"/><circle cx="310.37" cy="55.52" r="2.85" fill="#2e87f7"/><circle cx="317.80" cy="55.52" r="2.85" fill="#2d88f6"/><circle cx="325.22" cy="55.52" r="2.85" fill="#2d89f6"/><circle cx="332.65" cy="55.52" r="2.85" fill="#2d89f5"/><circle cx="340.07" cy="55.52" r="2.85" fill="#2d8af5"/><circle cx="347.50" cy="55.52" r="2.85" fill="#2d8af5"/><circle cx="354.93" cy="55.52" r="2.85" fill="#2d8af5"/><circle cx="362.35" cy="55.52" r="2.85" fill="#2d89f5"/><circle cx="369.78" cy="55.52" r="2.85" fill="#2d89f6"/><circle cx="377.20" cy="55.52" r="2.85" fill="#2d88f6"/><circle cx="384.63" cy="55.52" r="2.85" fill="#2e87f7"/><circle cx="392.06" cy="55.52" r="2.85" fill="#2e86f8"/><circle cx="399.48" cy="55.52" r="2.85" fill="#2e84f8"/><circle cx="406.91" cy="55.52" r="2.85" fill="#2e83f9"/><circle cx="414.33" cy="55.52" r="2.85" fill="#2f82fa"/><circle cx="421.76" cy="55.52" r="2.85" fill="#2f81fa"/><circle cx="276.95" cy="49.08" r="2.85" fill="#2f80fa"/><circle cx="284.38" cy="49.08" r="2.85" fill="#2f81fa"/><circle cx="291.80" cy="49.08" r="2.85" fill="#2e83f9"/><circle cx="299.23" cy="49.08" r="2.85" fill="#2e85f8"/><circle cx="306.66" cy="49.08" r="2.85" fill="#2e87f7"/><circle cx="314.08" cy="49.08" r="2.85" fill="#2d88f6"/><circle cx="321.51" cy="49.08" r="2.85" fill="#2d89f5"/><circle cx="328.93" cy="49.08" r="2.85" fill="#2d8af4"/><circle cx="336.36" cy="49.08" r="2.85" fill="#2d8bf4"/><circle cx="343.79" cy="49.08" r="2.85" fill="#2d8cf3"/><circle cx="351.21" cy="49.08" r="2.85" fill="#2d8cf3"/><circle cx="358.64" cy="49.08" r="2.85" fill="#2d8bf4"/><circle cx="366.06" cy="49.08" r="2.85" fill="#2d8af4"/><circle cx="373.49" cy="49.08" r="2.85" fill="#2d89f5"/><circle cx="380.92" cy="49.08" r="2.85" fill="#2d88f6"/><circle cx="388.34" cy="49.08" r="2.85" fill="#2e87f7"/><circle cx="395.77" cy="49.08" r="2.85" fill="#2e85f8"/><circle cx="403.20" cy="49.08" r="2.85" fill="#2e83f9"/><circle cx="410.62" cy="49.08" r="2.85" fill="#2f81fa"/><circle cx="418.05" cy="49.08" r="2.85" fill="#2f80fa"/></g>
<path d="M39.60 241.50H251.00V428.00H39.60ZM54.45 428.00v-2.40M54.45 241.50v2.40M91.00 428.00v-2.40M91.00 241.50v2.40M127.55 428.00v-2.40M127.55 241.50v2.40M164.10 428.00v-2.40M164.10 241.50v2.40M200.65 428.00v-2.40M200.65 241.50v2.40M237.20 428.00v-2.40M237.20 241.50v2.40M39.60 428.00h2.40M251.00 428.00h-2.40M39.60 391.45h2.40M251.00 391.45h-2.40M39.60 354.90h2.40M251.00 354.90h-2.40M39.60 318.35h2.40M251.00 318.35h-2.40M39.60 281.80h2.40M251.00 281.80h-2.40M39.60 245.25h2.40M251.00 245.25h-2.40" fill="none" stroke="#4a4a4a" stroke-width="0.95"/>
<g class="k" font-size="12.20"><text transform="translate(54.45 444.10) scale(0.93 1)" text-anchor="middle">-1</text><text transform="translate(91.00 444.10) scale(0.93 1)" text-anchor="middle">0</text><text transform="translate(127.55 444.10) scale(0.93 1)" text-anchor="middle">1</text><text transform="translate(164.10 444.10) scale(0.93 1)" text-anchor="middle">2</text><text transform="translate(200.65 444.10) scale(0.93 1)" text-anchor="middle">3</text><text transform="translate(237.20 444.10) scale(0.93 1)" text-anchor="middle">4</text><text transform="translate(34.60 432.20) scale(0.93 1)" text-anchor="end">0</text><text transform="translate(34.60 395.65) scale(0.93 1)" text-anchor="end">1</text><text transform="translate(34.60 359.10) scale(0.93 1)" text-anchor="end">2</text><text transform="translate(34.60 322.55) scale(0.93 1)" text-anchor="end">3</text><text transform="translate(34.60 286.00) scale(0.93 1)" text-anchor="end">4</text><text transform="translate(34.60 249.45) scale(0.93 1)" text-anchor="end">5</text></g>
<g><circle cx="90.90" cy="428.00" r="2.85" fill="#4538d7"/><circle cx="96.64" cy="428.00" r="2.85" fill="#4538d7"/><circle cx="102.38" cy="428.00" r="2.85" fill="#463bdd"/><circle cx="108.13" cy="428.00" r="2.85" fill="#4849ed"/><circle cx="113.87" cy="428.00" r="2.85" fill="#475cfa"/><circle cx="119.61" cy="428.00" r="2.85" fill="#3c71ff"/><circle cx="125.35" cy="428.00" r="2.85" fill="#307ffb"/><circle cx="131.09" cy="428.00" r="2.85" fill="#2b92ef"/><circle cx="136.84" cy="428.00" r="2.85" fill="#239fe5"/><circle cx="142.58" cy="428.00" r="2.85" fill="#1fa6e2"/><circle cx="148.32" cy="428.00" r="2.85" fill="#1ea7e1"/><circle cx="154.06" cy="428.00" r="2.85" fill="#1fa6e2"/><circle cx="159.80" cy="428.00" r="2.85" fill="#239fe5"/><circle cx="165.55" cy="428.00" r="2.85" fill="#2b92ef"/><circle cx="171.29" cy="428.00" r="2.85" fill="#307ffb"/><circle cx="177.03" cy="428.00" r="2.85" fill="#3c71ff"/><circle cx="182.77" cy="428.00" r="2.85" fill="#475cfa"/><circle cx="188.51" cy="428.00" r="2.85" fill="#4849ed"/><circle cx="194.26" cy="428.00" r="2.85" fill="#463bdd"/><circle cx="200.00" cy="428.00" r="2.85" fill="#4538d7"/><circle cx="90.90" cy="418.18" r="2.85" fill="#463adb"/><circle cx="96.64" cy="418.18" r="2.85" fill="#463bde"/><circle cx="102.38" cy="418.18" r="2.85" fill="#4740e4"/><circle cx="108.13" cy="418.18" r="2.85" fill="#484bee"/><circle cx="113.87" cy="418.18" r="2.85" fill="#4853f5"/><circle cx="119.61" cy="418.18" r="2.85" fill="#465dfb"/><circle cx="125.35" cy="418.18" r="2.85" fill="#426afe"/><circle cx="131.09" cy="418.18" r="2.85" fill="#3876fe"/><circle cx="136.84" cy="418.18" r="2.85" fill="#317dfc"/><circle cx="142.58" cy="418.18" r="2.85" fill="#2e83f9"/><circle cx="148.32" cy="418.18" r="2.85" fill="#2e86f7"/><circle cx="154.06" cy="418.18" r="2.85" fill="#2e83f9"/><circle cx="159.80" cy="418.18" r="2.85" fill="#317dfc"/><circle cx="165.55" cy="418.18" r="2.85" fill="#3876fe"/><circle cx="171.29" cy="418.18" r="2.85" fill="#426afe"/><circle cx="177.03" cy="418.18" r="2.85" fill="#465dfb"/><circle cx="182.77" cy="418.18" r="2.85" fill="#4853f5"/><circle cx="188.51" cy="418.18" r="2.85" fill="#484bee"/><circle cx="194.26" cy="418.18" r="2.85" fill="#4740e4"/><circle cx="200.00" cy="418.18" r="2.85" fill="#463bde"/><circle cx="90.90" cy="408.37" r="2.85" fill="#484df1"/><circle cx="96.64" cy="408.37" r="2.85" fill="#484ff2"/><circle cx="102.38" cy="408.37" r="2.85" fill="#4851f4"/><circle cx="108.13" cy="408.37" r="2.85" fill="#4853f5"/><circle cx="113.87" cy="408.37" r="2.85" fill="#4758f8"/><circle cx="119.61" cy="408.37" r="2.85" fill="#4660fb"/><circle cx="125.35" cy="408.37" r="2.85" fill="#4564fd"/><circle cx="131.09" cy="408.37" r="2.85" fill="#426afe"/><circle cx="136.84" cy="408.37" r="2.85" fill="#3b73fe"/><circle cx="142.58" cy="408.37" r="2.85" fill="#327cfc"/><circle cx="148.32" cy="408.37" r="2.85" fill="#2f80fa"/><circle cx="154.06" cy="408.37" r="2.85" fill="#327cfc"/><circle cx="159.80" cy="408.37" r="2.85" fill="#3b73fe"/><circle cx="165.55" cy="408.37" r="2.85" fill="#426afe"/><circle cx="171.29" cy="408.37" r="2.85" fill="#4564fd"/><circle cx="177.03" cy="408.37" r="2.85" fill="#4660fb"/><circle cx="182.77" cy="408.37" r="2.85" fill="#4758f8"/><circle cx="188.51" cy="408.37" r="2.85" fill="#4853f5"/><circle cx="194.26" cy="408.37" r="2.85" fill="#4851f4"/><circle cx="200.00" cy="408.37" r="2.85" fill="#484ff2"/><circle cx="90.90" cy="398.55" r="2.85" fill="#347afd"/><circle cx="96.64" cy="398.55" r="2.85" fill="#337bfd"/><circle cx="102.38" cy="398.55" r="2.85" fill="#327bfc"/><circle cx="108.13" cy="398.55" r="2.85" fill="#327cfc"/><circle cx="113.87" cy="398.55" r="2.85" fill="#327cfc"/><circle cx="119.61" cy="398.55" r="2.85" fill="#327cfc"/><circle cx="125.35" cy="398.55" r="2.85" fill="#327cfc"/><circle cx="131.09" cy="398.55" r="2.85" fill="#317dfc"/><circle cx="136.84" cy="398.55" r="2.85" fill="#317efb"/><circle cx="142.58" cy="398.55" r="2.85" fill="#307ffb"/><circle cx="148.32" cy="398.55" r="2.85" fill="#2f80fa"/><circle cx="154.06" cy="398.55" r="2.85" fill="#307ffb"/><circle cx="159.80" cy="398.55" r="2.85" fill="#317efb"/><circle cx="165.55" cy="398.55" r="2.85" fill="#317dfc"/><circle cx="171.29" cy="398.55" r="2.85" fill="#327cfc"/><circle cx="177.03" cy="398.55" r="2.85" fill="#327cfc"/><circle cx="182.77" cy="398.55" r="2.85" fill="#327cfc"/><circle cx="188.51" cy="398.55" r="2.85" fill="#327cfc"/><circle cx="194.26" cy="398.55" r="2.85" fill="#327bfc"/><circle cx="200.00" cy="398.55" r="2.85" fill="#337bfd"/><circle cx="90.90" cy="388.74" r="2.85" fill="#03b7cc"/><circle cx="96.64" cy="388.74" r="2.85" fill="#03b7cc"/><circle cx="102.38" cy="388.74" r="2.85" fill="#03b7cc"/><circle cx="108.13" cy="388.74" r="2.85" fill="#0bb3d2"/><circle cx="113.87" cy="388.74" r="2.85" fill="#1baade"/><circle cx="119.61" cy="388.74" r="2.85" fill="#249fe5"/><circle cx="125.35" cy="388.74" r="2.85" fill="#269ae9"/><circle cx="131.09" cy="388.74" r="2.85" fill="#2895ec"/><circle cx="136.84" cy="388.74" r="2.85" fill="#2a93ee"/><circle cx="142.58" cy="388.74" r="2.85" fill="#2a93ee"/><circle cx="148.32" cy="388.74" r="2.85" fill="#2a93ee"/><circle cx="154.06" cy="388.74" r="2.85" fill="#2a93ee"/><circle cx="159.80" cy="388.74" r="2.85" fill="#2a93ee"/><circle cx="165.55" cy="388.74" r="2.85" fill="#2895ec"/><circle cx="171.29" cy="388.74" r="2.85" fill="#269ae9"/><circle cx="177.03" cy="388.74" r="2.85" fill="#249fe5"/><circle cx="182.77" cy="388.74" r="2.85" fill="#1baade"/><circle cx="188.51" cy="388.74" r="2.85" fill="#0bb3d2"/><circle cx="194.26" cy="388.74" r="2.85" fill="#03b7cc"/><circle cx="200.00" cy="388.74" r="2.85" fill="#03b7cc"/><circle cx="90.90" cy="378.92" r="2.85" fill="#d4be28"/><circle cx="96.64" cy="378.92" r="2.85" fill="#c2c22c"/><circle cx="102.38" cy="378.92" r="2.85" fill="#8ccb50"/><circle cx="108.13" cy="378.92" r="2.85" fill="#3eca8f"/><circle cx="113.87" cy="378.92" r="2.85" fill="#0dbdbb"/><circle cx="119.61" cy="378.92" r="2.85" fill="#19addc"/><circle cx="125.35" cy="378.92" r="2.85" fill="#2a93ed"/><circle cx="131.09" cy="378.92" r="2.85" fill="#3080fb"/><circle cx="136.84" cy="378.92" r="2.85" fill="#3678fd"/><circle cx="142.58" cy="378.92" r="2.85" fill="#3678fd"/><circle cx="148.32" cy="378.92" r="2.85" fill="#3678fd"/><circle cx="154.06" cy="378.92" r="2.85" fill="#3678fd"/><circle cx="159.80" cy="378.92" r="2.85" fill="#3678fd"/><circle cx="165.55" cy="378.92" r="2.85" fill="#3080fb"/><circle cx="171.29" cy="378.92" r="2.85" fill="#2a93ed"/><circle cx="177.03" cy="378.92" r="2.85" fill="#19addc"/><circle cx="182.77" cy="378.92" r="2.85" fill="#0dbdbb"/><circle cx="188.51" cy="378.92" r="2.85" fill="#3eca8f"/><circle cx="194.26" cy="378.92" r="2.85" fill="#8ccb50"/><circle cx="200.00" cy="378.92" r="2.85" fill="#c2c22c"/><circle cx="90.90" cy="369.11" r="2.85" fill="#f5ed22"/><circle cx="96.64" cy="369.11" r="2.85" fill="#f7dc2a"/><circle cx="102.38" cy="369.11" r="2.85" fill="#febd3c"/><circle cx="108.13" cy="369.11" r="2.85" fill="#93ca4b"/><circle cx="113.87" cy="369.11" r="2.85" fill="#27c2ac"/><circle cx="119.61" cy="369.11" r="2.85" fill="#1caadf"/><circle cx="125.35" cy="369.11" r="2.85" fill="#2e84f8"/><circle cx="131.09" cy="369.11" r="2.85" fill="#416bfe"/><circle cx="136.84" cy="369.11" r="2.85" fill="#475bfa"/><circle cx="142.58" cy="369.11" r="2.85" fill="#4755f6"/><circle cx="148.32" cy="369.11" r="2.85" fill="#4853f5"/><circle cx="154.06" cy="369.11" r="2.85" fill="#4755f6"/><circle cx="159.80" cy="369.11" r="2.85" fill="#475bfa"/><circle cx="165.55" cy="369.11" r="2.85" fill="#416bfe"/><circle cx="171.29" cy="369.11" r="2.85" fill="#2e84f8"/><circle cx="177.03" cy="369.11" r="2.85" fill="#1caadf"/><circle cx="182.77" cy="369.11" r="2.85" fill="#27c2ac"/><circle cx="188.51" cy="369.11" r="2.85" fill="#93ca4b"/><circle cx="194.26" cy="369.11" r="2.85" fill="#febd3c"/><circle cx="200.00" cy="369.11" r="2.85" fill="#f7dc2a"/><circle cx="90.90" cy="359.29" r="2.85" fill="#f5ee21"/><circle cx="96.64" cy="359.29" r="2.85" fill="#f5e427"/><circle cx="102.38" cy="359.29" r="2.85" fill="#febe3c"/><circle cx="108.13" cy="359.29" r="2.85" fill="#a7c73c"/><circle cx="113.87" cy="359.29" r="2.85" fill="#2ec4a5"/><circle cx="119.61" cy="359.29" r="2.85" fill="#1ea6e1"/><circle cx="125.35" cy="359.29" r="2.85" fill="#317efb"/><circle cx="131.09" cy="359.29" r="2.85" fill="#465dfa"/><circle cx="136.84" cy="359.29" r="2.85" fill="#484cf0"/><circle cx="142.58" cy="359.29" r="2.85" fill="#4848ec"/><circle cx="148.32" cy="359.29" r="2.85" fill="#4747eb"/><circle cx="154.06" cy="359.29" r="2.85" fill="#4848ec"/><circle cx="159.80" cy="359.29" r="2.85" fill="#484cf0"/><circle cx="165.55" cy="359.29" r="2.85" fill="#465dfa"/><circle cx="171.29" cy="359.29" r="2.85" fill="#317efb"/><circle cx="177.03" cy="359.29" r="2.85" fill="#1ea6e1"/><circle cx="182.77" cy="359.29" r="2.85" fill="#2ec4a5"/><circle cx="188.51" cy="359.29" r="2.85" fill="#a7c73c"/><circle cx="194.26" cy="359.29" r="2.85" fill="#febe3c"/><circle cx="200.00" cy="359.29" r="2.85" fill="#f5e427"/><circle cx="90.90" cy="349.47" r="2.85" fill="#fec339"/><circle cx="96.64" cy="349.47" r="2.85" fill="#f7ba3c"/><circle cx="102.38" cy="349.47" r="2.85" fill="#b7c532"/><circle cx="108.13" cy="349.47" r="2.85" fill="#47cb87"/><circle cx="113.87" cy="349.47" r="2.85" fill="#05b6cd"/><circle cx="119.61" cy="349.47" r="2.85" fill="#2699e9"/><circle cx="125.35" cy="349.47" r="2.85" fill="#406dfe"/><circle cx="131.09" cy="349.47" r="2.85" fill="#4851f3"/><circle cx="136.84" cy="349.47" r="2.85" fill="#4745e9"/><circle cx="142.58" cy="349.47" r="2.85" fill="#4740e3"/><circle cx="148.32" cy="349.47" r="2.85" fill="#463de0"/><circle cx="154.06" cy="349.47" r="2.85" fill="#4740e3"/><circle cx="159.80" cy="349.47" r="2.85" fill="#4745e9"/><circle cx="165.55" cy="349.47" r="2.85" fill="#4851f3"/><circle cx="171.29" cy="349.47" r="2.85" fill="#406dfe"/><circle cx="177.03" cy="349.47" r="2.85" fill="#2699e9"/><circle cx="182.77" cy="349.47" r="2.85" fill="#05b6cd"/><circle cx="188.51" cy="349.47" r="2.85" fill="#47cb87"/><circle cx="194.26" cy="349.47" r="2.85" fill="#b7c532"/><circle cx="200.00" cy="349.47" r="2.85" fill="#f7ba3c"/><circle cx="90.90" cy="339.66" r="2.85" fill="#3ac993"/><circle cx="96.64" cy="339.66" r="2.85" fill="#31c5a1"/><circle cx="102.38" cy="339.66" r="2.85" fill="#12beb9"/><circle cx="108.13" cy="339.66" r="2.85" fill="#11b1d6"/><circle cx="113.87" cy="339.66" r="2.85" fill="#2896eb"/><circle cx="119.61" cy="339.66" r="2.85" fill="#3678fd"/><circle cx="125.35" cy="339.66" r="2.85" fill="#4758f8"/><circle cx="131.09" cy="339.66" r="2.85" fill="#4742e6"/><circle cx="136.84" cy="339.66" r="2.85" fill="#4639d9"/><circle cx="142.58" cy="339.66" r="2.85" fill="#4538d7"/><circle cx="148.32" cy="339.66" r="2.85" fill="#4538d7"/><circle cx="154.06" cy="339.66" r="2.85" fill="#4538d7"/><circle cx="159.80" cy="339.66" r="2.85" fill="#4639d9"/><circle cx="165.55" cy="339.66" r="2.85" fill="#4742e6"/><circle cx="171.29" cy="339.66" r="2.85" fill="#4758f8"/><circle cx="177.03" cy="339.66" r="2.85" fill="#3678fd"/><circle cx="182.77" cy="339.66" r="2.85" fill="#2896eb"/><circle cx="188.51" cy="339.66" r="2.85" fill="#11b1d6"/><circle cx="194.26" cy="339.66" r="2.85" fill="#12beb9"/><circle cx="200.00" cy="339.66" r="2.85" fill="#31c5a1"/><circle cx="90.90" cy="329.84" r="2.85" fill="#1ea7e1"/><circle cx="96.64" cy="329.84" r="2.85" fill="#1fa6e2"/><circle cx="102.38" cy="329.84" r="2.85" fill="#239fe5"/><circle cx="108.13" cy="329.84" r="2.85" fill="#2b92ef"/><circle cx="113.87" cy="329.84" r="2.85" fill="#307ffb"/><circle cx="119.61" cy="329.84" r="2.85" fill="#3c71ff"/><circle cx="125.35" cy="329.84" r="2.85" fill="#475cfa"/><circle cx="131.09" cy="329.84" r="2.85" fill="#4849ed"/><circle cx="136.84" cy="329.84" r="2.85" fill="#463bdd"/><circle cx="142.58" cy="329.84" r="2.85" fill="#4538d7"/><circle cx="148.32" cy="329.84" r="2.85" fill="#4538d7"/><circle cx="154.06" cy="329.84" r="2.85" fill="#4538d7"/><circle cx="159.80" cy="329.84" r="2.85" fill="#463bdd"/><circle cx="165.55" cy="329.84" r="2.85" fill="#4849ed"/><circle cx="171.29" cy="329.84" r="2.85" fill="#475cfa"/><circle cx="177.03" cy="329.84" r="2.85" fill="#3c71ff"/><circle cx="182.77" cy="329.84" r="2.85" fill="#307ffb"/><circle cx="188.51" cy="329.84" r="2.85" fill="#2b92ef"/><circle cx="194.26" cy="329.84" r="2.85" fill="#239fe5"/><circle cx="200.00" cy="329.84" r="2.85" fill="#1fa6e2"/><circle cx="90.90" cy="320.03" r="2.85" fill="#2e86f7"/><circle cx="96.64" cy="320.03" r="2.85" fill="#2e83f9"/><circle cx="102.38" cy="320.03" r="2.85" fill="#317dfc"/><circle cx="108.13" cy="320.03" r="2.85" fill="#3876fe"/><circle cx="113.87" cy="320.03" r="2.85" fill="#426afe"/><circle cx="119.61" cy="320.03" r="2.85" fill="#465dfb"/><circle cx="125.35" cy="320.03" r="2.85" fill="#4853f5"/><circle cx="131.09" cy="320.03" r="2.85" fill="#484bee"/><circle cx="136.84" cy="320.03" r="2.85" fill="#4740e4"/><circle cx="142.58" cy="320.03" r="2.85" fill="#463bde"/><circle cx="148.32" cy="320.03" r="2.85" fill="#463adb"/><circle cx="154.06" cy="320.03" r="2.85" fill="#463bde"/><circle cx="159.80" cy="320.03" r="2.85" fill="#4740e4"/><circle cx="165.55" cy="320.03" r="2.85" fill="#484bee"/><circle cx="171.29" cy="320.03" r="2.85" fill="#4853f5"/><circle cx="177.03" cy="320.03" r="2.85" fill="#465dfb"/><circle cx="182.77" cy="320.03" r="2.85" fill="#426afe"/><circle cx="188.51" cy="320.03" r="2.85" fill="#3876fe"/><circle cx="194.26" cy="320.03" r="2.85" fill="#317dfc"/><circle cx="200.00" cy="320.03" r="2.85" fill="#2e83f9"/><circle cx="90.90" cy="310.21" r="2.85" fill="#2f80fa"/><circle cx="96.64" cy="310.21" r="2.85" fill="#327cfc"/><circle cx="102.38" cy="310.21" r="2.85" fill="#3b73fe"/><circle cx="108.13" cy="310.21" r="2.85" fill="#426afe"/><circle cx="113.87" cy="310.21" r="2.85" fill="#4564fd"/><circle cx="119.61" cy="310.21" r="2.85" fill="#4660fb"/><circle cx="125.35" cy="310.21" r="2.85" fill="#4758f8"/><circle cx="131.09" cy="310.21" r="2.85" fill="#4853f5"/><circle cx="136.84" cy="310.21" r="2.85" fill="#4851f4"/><circle cx="142.58" cy="310.21" r="2.85" fill="#484ff2"/><circle cx="148.32" cy="310.21" r="2.85" fill="#484df1"/><circle cx="154.06" cy="310.21" r="2.85" fill="#484ff2"/><circle cx="159.80" cy="310.21" r="2.85" fill="#4851f4"/><circle cx="165.55" cy="310.21" r="2.85" fill="#4853f5"/><circle cx="171.29" cy="310.21" r="2.85" fill="#4758f8"/><circle cx="177.03" cy="310.21" r="2.85" fill="#4660fb"/><circle cx="182.77" cy="310.21" r="2.85" fill="#4564fd"/><circle cx="188.51" cy="310.21" r="2.85" fill="#426afe"/><circle cx="194.26" cy="310.21" r="2.85" fill="#3b73fe"/><circle cx="200.00" cy="310.21" r="2.85" fill="#327cfc"/><circle cx="90.90" cy="300.39" r="2.85" fill="#2f80fa"/><circle cx="96.64" cy="300.39" r="2.85" fill="#307ffb"/><circle cx="102.38" cy="300.39" r="2.85" fill="#317efb"/><circle cx="108.13" cy="300.39" r="2.85" fill="#317dfc"/><circle cx="113.87" cy="300.39" r="2.85" fill="#327cfc"/><circle cx="119.61" cy="300.39" r="2.85" fill="#327cfc"/><circle cx="125.35" cy="300.39" r="2.85" fill="#327cfc"/><circle cx="131.09" cy="300.39" r="2.85" fill="#327cfc"/><circle cx="136.84" cy="300.39" r="2.85" fill="#327bfc"/><circle cx="142.58" cy="300.39" r="2.85" fill="#337bfd"/><circle cx="148.32" cy="300.39" r="2.85" fill="#347afd"/><circle cx="154.06" cy="300.39" r="2.85" fill="#337bfd"/><circle cx="159.80" cy="300.39" r="2.85" fill="#327bfc"/><circle cx="165.55" cy="300.39" r="2.85" fill="#327cfc"/><circle cx="171.29" cy="300.39" r="2.85" fill="#327cfc"/><circle cx="177.03" cy="300.39" r="2.85" fill="#327cfc"/><circle cx="182.77" cy="300.39" r="2.85" fill="#327cfc"/><circle cx="188.51" cy="300.39" r="2.85" fill="#317dfc"/><circle cx="194.26" cy="300.39" r="2.85" fill="#317efb"/><circle cx="200.00" cy="300.39" r="2.85" fill="#307ffb"/><circle cx="90.90" cy="290.58" r="2.85" fill="#2a93ee"/><circle cx="96.64" cy="290.58" r="2.85" fill="#2a93ee"/><circle cx="102.38" cy="290.58" r="2.85" fill="#2a93ee"/><circle cx="108.13" cy="290.58" r="2.85" fill="#2895ec"/><circle cx="113.87" cy="290.58" r="2.85" fill="#269ae9"/><circle cx="119.61" cy="290.58" r="2.85" fill="#249fe5"/><circle cx="125.35" cy="290.58" r="2.85" fill="#1baade"/><circle cx="131.09" cy="290.58" r="2.85" fill="#0bb3d2"/><circle cx="136.84" cy="290.58" r="2.85" fill="#03b7cc"/><circle cx="142.58" cy="290.58" r="2.85" fill="#03b7cc"/><circle cx="148.32" cy="290.58" r="2.85" fill="#03b7cc"/><circle cx="154.06" cy="290.58" r="2.85" fill="#03b7cc"/><circle cx="159.80" cy="290.58" r="2.85" fill="#03b7cc"/><circle cx="165.55" cy="290.58" r="2.85" fill="#0bb3d2"/><circle cx="171.29" cy="290.58" r="2.85" fill="#1baade"/><circle cx="177.03" cy="290.58" r="2.85" fill="#249fe5"/><circle cx="182.77" cy="290.58" r="2.85" fill="#269ae9"/><circle cx="188.51" cy="290.58" r="2.85" fill="#2895ec"/><circle cx="194.26" cy="290.58" r="2.85" fill="#2a93ee"/><circle cx="200.00" cy="290.58" r="2.85" fill="#2a93ee"/><circle cx="90.90" cy="280.76" r="2.85" fill="#3678fd"/><circle cx="96.64" cy="280.76" r="2.85" fill="#3678fd"/><circle cx="102.38" cy="280.76" r="2.85" fill="#3678fd"/><circle cx="108.13" cy="280.76" r="2.85" fill="#3080fb"/><circle cx="113.87" cy="280.76" r="2.85" fill="#2a93ed"/><circle cx="119.61" cy="280.76" r="2.85" fill="#19addc"/><circle cx="125.35" cy="280.76" r="2.85" fill="#0dbdbb"/><circle cx="131.09" cy="280.76" r="2.85" fill="#3eca8f"/><circle cx="136.84" cy="280.76" r="2.85" fill="#8ccb50"/><circle cx="142.58" cy="280.76" r="2.85" fill="#c2c22c"/><circle cx="148.32" cy="280.76" r="2.85" fill="#d4be28"/><circle cx="154.06" cy="280.76" r="2.85" fill="#c2c22c"/><circle cx="159.80" cy="280.76" r="2.85" fill="#8ccb50"/><circle cx="165.55" cy="280.76" r="2.85" fill="#3eca8f"/><circle cx="171.29" cy="280.76" r="2.85" fill="#0dbdbb"/><circle cx="177.03" cy="280.76" r="2.85" fill="#19addc"/><circle cx="182.77" cy="280.76" r="2.85" fill="#2a93ed"/><circle cx="188.51" cy="280.76" r="2.85" fill="#3080fb"/><circle cx="194.26" cy="280.76" r="2.85" fill="#3678fd"/><circle cx="200.00" cy="280.76" r="2.85" fill="#3678fd"/><circle cx="90.90" cy="270.95" r="2.85" fill="#4853f5"/><circle cx="96.64" cy="270.95" r="2.85" fill="#4755f6"/><circle cx="102.38" cy="270.95" r="2.85" fill="#475bfa"/><circle cx="108.13" cy="270.95" r="2.85" fill="#416bfe"/><circle cx="113.87" cy="270.95" r="2.85" fill="#2e84f8"/><circle cx="119.61" cy="270.95" r="2.85" fill="#1caadf"/><circle cx="125.35" cy="270.95" r="2.85" fill="#27c2ac"/><circle cx="131.09" cy="270.95" r="2.85" fill="#93ca4b"/><circle cx="136.84" cy="270.95" r="2.85" fill="#febd3c"/><circle cx="142.58" cy="270.95" r="2.85" fill="#f7dc2a"/><circle cx="148.32" cy="270.95" r="2.85" fill="#f5ed22"/><circle cx="154.06" cy="270.95" r="2.85" fill="#f7dc2a"/><circle cx="159.80" cy="270.95" r="2.85" fill="#febd3c"/><circle cx="165.55" cy="270.95" r="2.85" fill="#93ca4b"/><circle cx="171.29" cy="270.95" r="2.85" fill="#27c2ac"/><circle cx="177.03" cy="270.95" r="2.85" fill="#1caadf"/><circle cx="182.77" cy="270.95" r="2.85" fill="#2e84f8"/><circle cx="188.51" cy="270.95" r="2.85" fill="#416bfe"/><circle cx="194.26" cy="270.95" r="2.85" fill="#475bfa"/><circle cx="200.00" cy="270.95" r="2.85" fill="#4755f6"/><circle cx="90.90" cy="261.13" r="2.85" fill="#4747eb"/><circle cx="96.64" cy="261.13" r="2.85" fill="#4848ec"/><circle cx="102.38" cy="261.13" r="2.85" fill="#484cf0"/><circle cx="108.13" cy="261.13" r="2.85" fill="#465dfa"/><circle cx="113.87" cy="261.13" r="2.85" fill="#317efb"/><circle cx="119.61" cy="261.13" r="2.85" fill="#1ea6e1"/><circle cx="125.35" cy="261.13" r="2.85" fill="#2ec4a5"/><circle cx="131.09" cy="261.13" r="2.85" fill="#a7c73c"/><circle cx="136.84" cy="261.13" r="2.85" fill="#febe3c"/><circle cx="142.58" cy="261.13" r="2.85" fill="#f5e427"/><circle cx="148.32" cy="261.13" r="2.85" fill="#f5ee21"/><circle cx="154.06" cy="261.13" r="2.85" fill="#f5e427"/><circle cx="159.80" cy="261.13" r="2.85" fill="#febe3c"/><circle cx="165.55" cy="261.13" r="2.85" fill="#a7c73c"/><circle cx="171.29" cy="261.13" r="2.85" fill="#2ec4a5"/><circle cx="177.03" cy="261.13" r="2.85" fill="#1ea6e1"/><circle cx="182.77" cy="261.13" r="2.85" fill="#317efb"/><circle cx="188.51" cy="261.13" r="2.85" fill="#465dfa"/><circle cx="194.26" cy="261.13" r="2.85" fill="#484cf0"/><circle cx="200.00" cy="261.13" r="2.85" fill="#4848ec"/><circle cx="90.90" cy="251.32" r="2.85" fill="#463de0"/><circle cx="96.64" cy="251.32" r="2.85" fill="#4740e3"/><circle cx="102.38" cy="251.32" r="2.85" fill="#4745e9"/><circle cx="108.13" cy="251.32" r="2.85" fill="#4851f3"/><circle cx="113.87" cy="251.32" r="2.85" fill="#406dfe"/><circle cx="119.61" cy="251.32" r="2.85" fill="#2699e9"/><circle cx="125.35" cy="251.32" r="2.85" fill="#05b6cd"/><circle cx="131.09" cy="251.32" r="2.85" fill="#47cb87"/><circle cx="136.84" cy="251.32" r="2.85" fill="#b7c532"/><circle cx="142.58" cy="251.32" r="2.85" fill="#f7ba3c"/><circle cx="148.32" cy="251.32" r="2.85" fill="#fec339"/><circle cx="154.06" cy="251.32" r="2.85" fill="#f7ba3c"/><circle cx="159.80" cy="251.32" r="2.85" fill="#b7c532"/><circle cx="165.55" cy="251.32" r="2.85" fill="#47cb87"/><circle cx="171.29" cy="251.32" r="2.85" fill="#05b6cd"/><circle cx="177.03" cy="251.32" r="2.85" fill="#2699e9"/><circle cx="182.77" cy="251.32" r="2.85" fill="#406dfe"/><circle cx="188.51" cy="251.32" r="2.85" fill="#4851f3"/><circle cx="194.26" cy="251.32" r="2.85" fill="#4745e9"/><circle cx="200.00" cy="251.32" r="2.85" fill="#4740e3"/><circle cx="90.90" cy="241.50" r="2.85" fill="#4538d7"/><circle cx="96.64" cy="241.50" r="2.85" fill="#4538d7"/><circle cx="102.38" cy="241.50" r="2.85" fill="#4639d9"/><circle cx="108.13" cy="241.50" r="2.85" fill="#4742e6"/><circle cx="113.87" cy="241.50" r="2.85" fill="#4758f8"/><circle cx="119.61" cy="241.50" r="2.85" fill="#3678fd"/><circle cx="125.35" cy="241.50" r="2.85" fill="#2896eb"/><circle cx="131.09" cy="241.50" r="2.85" fill="#11b1d6"/><circle cx="136.84" cy="241.50" r="2.85" fill="#12beb9"/><circle cx="142.58" cy="241.50" r="2.85" fill="#31c5a1"/><circle cx="148.32" cy="241.50" r="2.85" fill="#3ac993"/><circle cx="154.06" cy="241.50" r="2.85" fill="#31c5a1"/><circle cx="159.80" cy="241.50" r="2.85" fill="#12beb9"/><circle cx="165.55" cy="241.50" r="2.85" fill="#11b1d6"/><circle cx="171.29" cy="241.50" r="2.85" fill="#2896eb"/><circle cx="177.03" cy="241.50" r="2.85" fill="#3678fd"/><circle cx="182.77" cy="241.50" r="2.85" fill="#4758f8"/><circle cx="188.51" cy="241.50" r="2.85" fill="#4742e6"/><circle cx="194.26" cy="241.50" r="2.85" fill="#4639d9"/><circle cx="200.00" cy="241.50" r="2.85" fill="#4538d7"/></g>
<path d="M277.00 241.50H488.40V428.00H277.00ZM291.85 428.00v-2.40M291.85 241.50v2.40M328.40 428.00v-2.40M328.40 241.50v2.40M364.95 428.00v-2.40M364.95 241.50v2.40M401.50 428.00v-2.40M401.50 241.50v2.40M438.05 428.00v-2.40M438.05 241.50v2.40M474.60 428.00v-2.40M474.60 241.50v2.40M277.00 428.00h2.40M488.40 428.00h-2.40M277.00 391.45h2.40M488.40 391.45h-2.40M277.00 354.90h2.40M488.40 354.90h-2.40M277.00 318.35h2.40M488.40 318.35h-2.40M277.00 281.80h2.40M488.40 281.80h-2.40M277.00 245.25h2.40M488.40 245.25h-2.40" fill="none" stroke="#4a4a4a" stroke-width="0.95"/>
<g class="k" font-size="12.20"><text transform="translate(291.85 444.10) scale(0.93 1)" text-anchor="middle">-1</text><text transform="translate(328.40 444.10) scale(0.93 1)" text-anchor="middle">0</text><text transform="translate(364.95 444.10) scale(0.93 1)" text-anchor="middle">1</text><text transform="translate(401.50 444.10) scale(0.93 1)" text-anchor="middle">2</text><text transform="translate(438.05 444.10) scale(0.93 1)" text-anchor="middle">3</text><text transform="translate(474.60 444.10) scale(0.93 1)" text-anchor="middle">4</text><text transform="translate(272.00 432.20) scale(0.93 1)" text-anchor="end">0</text><text transform="translate(272.00 395.65) scale(0.93 1)" text-anchor="end">1</text><text transform="translate(272.00 359.10) scale(0.93 1)" text-anchor="end">2</text><text transform="translate(272.00 322.55) scale(0.93 1)" text-anchor="end">3</text><text transform="translate(272.00 286.00) scale(0.93 1)" text-anchor="end">4</text><text transform="translate(272.00 249.45) scale(0.93 1)" text-anchor="end">5</text></g>
<g><circle cx="328.30" cy="428.00" r="2.85" fill="#2f82f9"/><circle cx="334.04" cy="428.00" r="2.85" fill="#2f82f9"/><circle cx="339.78" cy="428.00" r="2.85" fill="#2e83f9"/><circle cx="345.53" cy="428.00" r="2.85" fill="#2e87f7"/><circle cx="351.27" cy="428.00" r="2.85" fill="#2d8bf4"/><circle cx="357.01" cy="428.00" r="2.85" fill="#2c90f0"/><circle cx="362.75" cy="428.00" r="2.85" fill="#2994ed"/><circle cx="368.49" cy="428.00" r="2.85" fill="#269ae8"/><circle cx="374.24" cy="428.00" r="2.85" fill="#249fe5"/><circle cx="379.98" cy="428.00" r="2.85" fill="#22a1e4"/><circle cx="385.72" cy="428.00" r="2.85" fill="#22a2e4"/><circle cx="391.46" cy="428.00" r="2.85" fill="#22a1e4"/><circle cx="397.20" cy="428.00" r="2.85" fill="#249fe5"/><circle cx="402.95" cy="428.00" r="2.85" fill="#269ae8"/><circle cx="408.69" cy="428.00" r="2.85" fill="#2994ed"/><circle cx="414.43" cy="428.00" r="2.85" fill="#2c90f0"/><circle cx="420.17" cy="428.00" r="2.85" fill="#2d8bf4"/><circle cx="425.91" cy="428.00" r="2.85" fill="#2e87f7"/><circle cx="431.66" cy="428.00" r="2.85" fill="#2e83f9"/><circle cx="437.40" cy="428.00" r="2.85" fill="#2f82f9"/><circle cx="328.30" cy="418.18" r="2.85" fill="#2e83f9"/><circle cx="334.04" cy="418.18" r="2.85" fill="#2e83f9"/><circle cx="339.78" cy="418.18" r="2.85" fill="#2e84f8"/><circle cx="345.53" cy="418.18" r="2.85" fill="#2e87f7"/><circle cx="351.27" cy="418.18" r="2.85" fill="#2d89f5"/><circle cx="357.01" cy="418.18" r="2.85" fill="#2d8bf3"/><circle cx="362.75" cy="418.18" r="2.85" fill="#2c8ef1"/><circle cx="368.49" cy="418.18" r="2.85" fill="#2b91ef"/><circle cx="374.24" cy="418.18" r="2.85" fill="#2994ed"/><circle cx="379.98" cy="418.18" r="2.85" fill="#2896ec"/><circle cx="385.72" cy="418.18" r="2.85" fill="#2797eb"/><circle cx="391.46" cy="418.18" r="2.85" fill="#2896ec"/><circle cx="397.20" cy="418.18" r="2.85" fill="#2994ed"/><circle cx="402.95" cy="418.18" r="2.85" fill="#2b91ef"/><circle cx="408.69" cy="418.18" r="2.85" fill="#2c8ef1"/><circle cx="414.43" cy="418.18" r="2.85" fill="#2d8bf3"/><circle cx="420.17" cy="418.18" r="2.85" fill="#2d89f5"/><circle cx="425.91" cy="418.18" r="2.85" fill="#2e87f7"/><circle cx="431.66" cy="418.18" r="2.85" fill="#2e84f8"/><circle cx="437.40" cy="418.18" r="2.85" fill="#2e83f9"/><circle cx="328.30" cy="408.37" r="2.85" fill="#2d88f6"/><circle cx="334.04" cy="408.37" r="2.85" fill="#2d88f6"/><circle cx="339.78" cy="408.37" r="2.85" fill="#2d89f6"/><circle cx="345.53" cy="408.37" r="2.85" fill="#2d89f5"/><circle cx="351.27" cy="408.37" r="2.85" fill="#2d8af4"/><circle cx="357.01" cy="408.37" r="2.85" fill="#2d8cf3"/><circle cx="362.75" cy="408.37" r="2.85" fill="#2d8df2"/><circle cx="368.49" cy="408.37" r="2.85" fill="#2c8ef1"/><circle cx="374.24" cy="408.37" r="2.85" fill="#2b91ef"/><circle cx="379.98" cy="408.37" r="2.85" fill="#2a93ed"/><circle cx="385.72" cy="408.37" r="2.85" fill="#2995ec"/><circle cx="391.46" cy="408.37" r="2.85" fill="#2a93ed"/><circle cx="397.20" cy="408.37" r="2.85" fill="#2b91ef"/><circle cx="402.95" cy="408.37" r="2.85" fill="#2c8ef1"/><circle cx="408.69" cy="408.37" r="2.85" fill="#2d8df2"/><circle cx="414.43" cy="408.37" r="2.85" fill="#2d8cf3"/><circle cx="420.17" cy="408.37" r="2.85" fill="#2d8af4"/><circle cx="425.91" cy="408.37" r="2.85" fill="#2d89f5"/><circle cx="431.66" cy="408.37" r="2.85" fill="#2d89f6"/><circle cx="437.40" cy="408.37" r="2.85" fill="#2d88f6"/><circle cx="328.30" cy="398.55" r="2.85" fill="#2a93ee"/><circle cx="334.04" cy="398.55" r="2.85" fill="#2a93ee"/><circle cx="339.78" cy="398.55" r="2.85" fill="#2a93ee"/><circle cx="345.53" cy="398.55" r="2.85" fill="#2a93ed"/><circle cx="351.27" cy="398.55" r="2.85" fill="#2a93ed"/><circle cx="357.01" cy="398.55" r="2.85" fill="#2a93ed"/><circle cx="362.75" cy="398.55" r="2.85" fill="#2a93ed"/><circle cx="368.49" cy="398.55" r="2.85" fill="#2994ed"/><circle cx="374.24" cy="398.55" r="2.85" fill="#2994ed"/><circle cx="379.98" cy="398.55" r="2.85" fill="#2994ed"/><circle cx="385.72" cy="398.55" r="2.85" fill="#2995ec"/><circle cx="391.46" cy="398.55" r="2.85" fill="#2994ed"/><circle cx="397.20" cy="398.55" r="2.85" fill="#2994ed"/><circle cx="402.95" cy="398.55" r="2.85" fill="#2994ed"/><circle cx="408.69" cy="398.55" r="2.85" fill="#2a93ed"/><circle cx="414.43" cy="398.55" r="2.85" fill="#2a93ed"/><circle cx="420.17" cy="398.55" r="2.85" fill="#2a93ed"/><circle cx="425.91" cy="398.55" r="2.85" fill="#2a93ed"/><circle cx="431.66" cy="398.55" r="2.85" fill="#2a93ee"/><circle cx="437.40" cy="398.55" r="2.85" fill="#2a93ee"/><circle cx="328.30" cy="388.74" r="2.85" fill="#1da9e0"/><circle cx="334.04" cy="388.74" r="2.85" fill="#1da9e0"/><circle cx="339.78" cy="388.74" r="2.85" fill="#1da9e0"/><circle cx="345.53" cy="388.74" r="2.85" fill="#1ea7e1"/><circle cx="351.27" cy="388.74" r="2.85" fill="#21a3e3"/><circle cx="357.01" cy="388.74" r="2.85" fill="#249fe5"/><circle cx="362.75" cy="388.74" r="2.85" fill="#249de7"/><circle cx="368.49" cy="388.74" r="2.85" fill="#259be7"/><circle cx="374.24" cy="388.74" r="2.85" fill="#259be8"/><circle cx="379.98" cy="388.74" r="2.85" fill="#259be8"/><circle cx="385.72" cy="388.74" r="2.85" fill="#259be8"/><circle cx="391.46" cy="388.74" r="2.85" fill="#259be8"/><circle cx="397.20" cy="388.74" r="2.85" fill="#259be8"/><circle cx="402.95" cy="388.74" r="2.85" fill="#259be7"/><circle cx="408.69" cy="388.74" r="2.85" fill="#249de7"/><circle cx="414.43" cy="388.74" r="2.85" fill="#249fe5"/><circle cx="420.17" cy="388.74" r="2.85" fill="#21a3e3"/><circle cx="425.91" cy="388.74" r="2.85" fill="#1ea7e1"/><circle cx="431.66" cy="388.74" r="2.85" fill="#1da9e0"/><circle cx="437.40" cy="388.74" r="2.85" fill="#1da9e0"/><circle cx="328.30" cy="378.92" r="2.85" fill="#17bfb6"/><circle cx="334.04" cy="378.92" r="2.85" fill="#0fbeba"/><circle cx="339.78" cy="378.92" r="2.85" fill="#02bac4"/><circle cx="345.53" cy="378.92" r="2.85" fill="#09b4d1"/><circle cx="351.27" cy="378.92" r="2.85" fill="#19acdc"/><circle cx="357.01" cy="378.92" r="2.85" fill="#20a4e3"/><circle cx="362.75" cy="378.92" r="2.85" fill="#259be8"/><circle cx="368.49" cy="378.92" r="2.85" fill="#2994ed"/><circle cx="374.24" cy="378.92" r="2.85" fill="#2b92ee"/><circle cx="379.98" cy="378.92" r="2.85" fill="#2b92ee"/><circle cx="385.72" cy="378.92" r="2.85" fill="#2b92ee"/><circle cx="391.46" cy="378.92" r="2.85" fill="#2b92ee"/><circle cx="397.20" cy="378.92" r="2.85" fill="#2b92ee"/><circle cx="402.95" cy="378.92" r="2.85" fill="#2994ed"/><circle cx="408.69" cy="378.92" r="2.85" fill="#259be8"/><circle cx="414.43" cy="378.92" r="2.85" fill="#20a4e3"/><circle cx="420.17" cy="378.92" r="2.85" fill="#19acdc"/><circle cx="425.91" cy="378.92" r="2.85" fill="#09b4d1"/><circle cx="431.66" cy="378.92" r="2.85" fill="#02bac4"/><circle cx="437.40" cy="378.92" r="2.85" fill="#0fbeba"/><circle cx="328.30" cy="369.11" r="2.85" fill="#3ac994"/><circle cx="334.04" cy="369.11" r="2.85" fill="#33c79d"/><circle cx="339.78" cy="369.11" r="2.85" fill="#28c3aa"/><circle cx="345.53" cy="369.11" r="2.85" fill="#03bbc3"/><circle cx="351.27" cy="369.11" r="2.85" fill="#15afd8"/><circle cx="357.01" cy="369.11" r="2.85" fill="#21a3e3"/><circle cx="362.75" cy="369.11" r="2.85" fill="#2896ec"/><circle cx="368.49" cy="369.11" r="2.85" fill="#2c8ef1"/><circle cx="374.24" cy="369.11" r="2.85" fill="#2d8bf4"/><circle cx="379.98" cy="369.11" r="2.85" fill="#2d89f5"/><circle cx="385.72" cy="369.11" r="2.85" fill="#2d89f5"/><circle cx="391.46" cy="369.11" r="2.85" fill="#2d89f5"/><circle cx="397.20" cy="369.11" r="2.85" fill="#2d8bf4"/><circle cx="402.95" cy="369.11" r="2.85" fill="#2c8ef1"/><circle cx="408.69" cy="369.11" r="2.85" fill="#2896ec"/><circle cx="414.43" cy="369.11" r="2.85" fill="#21a3e3"/><circle cx="420.17" cy="369.11" r="2.85" fill="#15afd8"/><circle cx="425.91" cy="369.11" r="2.85" fill="#03bbc3"/><circle cx="431.66" cy="369.11" r="2.85" fill="#28c3aa"/><circle cx="437.40" cy="369.11" r="2.85" fill="#33c79d"/><circle cx="328.30" cy="359.29" r="2.85" fill="#3ac993"/><circle cx="334.04" cy="359.29" r="2.85" fill="#36c899"/><circle cx="339.78" cy="359.29" r="2.85" fill="#29c3aa"/><circle cx="345.53" cy="359.29" r="2.85" fill="#07bcbf"/><circle cx="351.27" cy="359.29" r="2.85" fill="#12b1d7"/><circle cx="357.01" cy="359.29" r="2.85" fill="#22a2e4"/><circle cx="362.75" cy="359.29" r="2.85" fill="#2994ed"/><circle cx="368.49" cy="359.29" r="2.85" fill="#2d8bf3"/><circle cx="374.24" cy="359.29" r="2.85" fill="#2d87f7"/><circle cx="379.98" cy="359.29" r="2.85" fill="#2e86f7"/><circle cx="385.72" cy="359.29" r="2.85" fill="#2e86f7"/><circle cx="391.46" cy="359.29" r="2.85" fill="#2e86f7"/><circle cx="397.20" cy="359.29" r="2.85" fill="#2d87f7"/><circle cx="402.95" cy="359.29" r="2.85" fill="#2d8bf3"/><circle cx="408.69" cy="359.29" r="2.85" fill="#2994ed"/><circle cx="414.43" cy="359.29" r="2.85" fill="#22a2e4"/><circle cx="420.17" cy="359.29" r="2.85" fill="#12b1d7"/><circle cx="425.91" cy="359.29" r="2.85" fill="#07bcbf"/><circle cx="431.66" cy="359.29" r="2.85" fill="#29c3aa"/><circle cx="437.40" cy="359.29" r="2.85" fill="#36c899"/><circle cx="328.30" cy="349.47" r="2.85" fill="#2bc3a8"/><circle cx="334.04" cy="349.47" r="2.85" fill="#25c2ad"/><circle cx="339.78" cy="349.47" r="2.85" fill="#0bbdbc"/><circle cx="345.53" cy="349.47" r="2.85" fill="#07b5d0"/><circle cx="351.27" cy="349.47" r="2.85" fill="#1da8e0"/><circle cx="357.01" cy="349.47" r="2.85" fill="#259de7"/><circle cx="362.75" cy="349.47" r="2.85" fill="#2c8ff1"/><circle cx="368.49" cy="349.47" r="2.85" fill="#2d88f6"/><circle cx="374.24" cy="349.47" r="2.85" fill="#2e86f8"/><circle cx="379.98" cy="349.47" r="2.85" fill="#2e84f8"/><circle cx="385.72" cy="349.47" r="2.85" fill="#2e84f9"/><circle cx="391.46" cy="349.47" r="2.85" fill="#2e84f8"/><circle cx="397.20" cy="349.47" r="2.85" fill="#2e86f8"/><circle cx="402.95" cy="349.47" r="2.85" fill="#2d88f6"/><circle cx="408.69" cy="349.47" r="2.85" fill="#2c8ff1"/><circle cx="414.43" cy="349.47" r="2.85" fill="#259de7"/><circle cx="420.17" cy="349.47" r="2.85" fill="#1da8e0"/><circle cx="425.91" cy="349.47" r="2.85" fill="#07b5d0"/><circle cx="431.66" cy="349.47" r="2.85" fill="#0bbdbc"/><circle cx="437.40" cy="349.47" r="2.85" fill="#25c2ad"/><circle cx="328.30" cy="339.66" r="2.85" fill="#0bb3d2"/><circle cx="334.04" cy="339.66" r="2.85" fill="#11b1d6"/><circle cx="339.78" cy="339.66" r="2.85" fill="#19addc"/><circle cx="345.53" cy="339.66" r="2.85" fill="#1fa6e2"/><circle cx="351.27" cy="339.66" r="2.85" fill="#259ce7"/><circle cx="357.01" cy="339.66" r="2.85" fill="#2b92ee"/><circle cx="362.75" cy="339.66" r="2.85" fill="#2d8af4"/><circle cx="368.49" cy="339.66" r="2.85" fill="#2e85f8"/><circle cx="374.24" cy="339.66" r="2.85" fill="#2e83f9"/><circle cx="379.98" cy="339.66" r="2.85" fill="#2f82f9"/><circle cx="385.72" cy="339.66" r="2.85" fill="#2f82f9"/><circle cx="391.46" cy="339.66" r="2.85" fill="#2f82f9"/><circle cx="397.20" cy="339.66" r="2.85" fill="#2e83f9"/><circle cx="402.95" cy="339.66" r="2.85" fill="#2e85f8"/><circle cx="408.69" cy="339.66" r="2.85" fill="#2d8af4"/><circle cx="414.43" cy="339.66" r="2.85" fill="#2b92ee"/><circle cx="420.17" cy="339.66" r="2.85" fill="#259ce7"/><circle cx="425.91" cy="339.66" r="2.85" fill="#1fa6e2"/><circle cx="431.66" cy="339.66" r="2.85" fill="#19addc"/><circle cx="437.40" cy="339.66" r="2.85" fill="#11b1d6"/><circle cx="328.30" cy="329.84" r="2.85" fill="#22a2e4"/><circle cx="334.04" cy="329.84" r="2.85" fill="#22a1e4"/><circle cx="339.78" cy="329.84" r="2.85" fill="#249fe5"/><circle cx="345.53" cy="329.84" r="2.85" fill="#269ae8"/><circle cx="351.27" cy="329.84" r="2.85" fill="#2994ed"/><circle cx="357.01" cy="329.84" r="2.85" fill="#2c90f0"/><circle cx="362.75" cy="329.84" r="2.85" fill="#2d8bf4"/><circle cx="368.49" cy="329.84" r="2.85" fill="#2e87f7"/><circle cx="374.24" cy="329.84" r="2.85" fill="#2e83f9"/><circle cx="379.98" cy="329.84" r="2.85" fill="#2f82f9"/><circle cx="385.72" cy="329.84" r="2.85" fill="#2f82f9"/><circle cx="391.46" cy="329.84" r="2.85" fill="#2f82f9"/><circle cx="397.20" cy="329.84" r="2.85" fill="#2e83f9"/><circle cx="402.95" cy="329.84" r="2.85" fill="#2e87f7"/><circle cx="408.69" cy="329.84" r="2.85" fill="#2d8bf4"/><circle cx="414.43" cy="329.84" r="2.85" fill="#2c90f0"/><circle cx="420.17" cy="329.84" r="2.85" fill="#2994ed"/><circle cx="425.91" cy="329.84" r="2.85" fill="#269ae8"/><circle cx="431.66" cy="329.84" r="2.85" fill="#249fe5"/><circle cx="437.40" cy="329.84" r="2.85" fill="#22a1e4"/><circle cx="328.30" cy="320.03" r="2.85" fill="#2797eb"/><circle cx="334.04" cy="320.03" r="2.85" fill="#2896ec"/><circle cx="339.78" cy="320.03" r="2.85" fill="#2994ed"/><circle cx="345.53" cy="320.03" r="2.85" fill="#2b91ef"/><circle cx="351.27" cy="320.03" r="2.85" fill="#2c8ef1"/><circle cx="357.01" cy="320.03" r="2.85" fill="#2d8bf3"/><circle cx="362.75" cy="320.03" r="2.85" fill="#2d89f5"/><circle cx="368.49" cy="320.03" r="2.85" fill="#2e87f7"/><circle cx="374.24" cy="320.03" r="2.85" fill="#2e84f8"/><circle cx="379.98" cy="320.03" r="2.85" fill="#2e83f9"/><circle cx="385.72" cy="320.03" r="2.85" fill="#2e83f9"/><circle cx="391.46" cy="320.03" r="2.85" fill="#2e83f9"/><circle cx="397.20" cy="320.03" r="2.85" fill="#2e84f8"/><circle cx="402.95" cy="320.03" r="2.85" fill="#2e87f7"/><circle cx="408.69" cy="320.03" r="2.85" fill="#2d89f5"/><circle cx="414.43" cy="320.03" r="2.85" fill="#2d8bf3"/><circle cx="420.17" cy="320.03" r="2.85" fill="#2c8ef1"/><circle cx="425.91" cy="320.03" r="2.85" fill="#2b91ef"/><circle cx="431.66" cy="320.03" r="2.85" fill="#2994ed"/><circle cx="437.40" cy="320.03" r="2.85" fill="#2896ec"/><circle cx="328.30" cy="310.21" r="2.85" fill="#2995ec"/><circle cx="334.04" cy="310.21" r="2.85" fill="#2a93ed"/><circle cx="339.78" cy="310.21" r="2.85" fill="#2b91ef"/><circle cx="345.53" cy="310.21" r="2.85" fill="#2c8ef1"/><circle cx="351.27" cy="310.21" r="2.85" fill="#2d8df2"/><circle cx="357.01" cy="310.21" r="2.85" fill="#2d8cf3"/><circle cx="362.75" cy="310.21" r="2.85" fill="#2d8af4"/><circle cx="368.49" cy="310.21" r="2.85" fill="#2d89f5"/><circle cx="374.24" cy="310.21" r="2.85" fill="#2d89f6"/><circle cx="379.98" cy="310.21" r="2.85" fill="#2d88f6"/><circle cx="385.72" cy="310.21" r="2.85" fill="#2d88f6"/><circle cx="391.46" cy="310.21" r="2.85" fill="#2d88f6"/><circle cx="397.20" cy="310.21" r="2.85" fill="#2d89f6"/><circle cx="402.95" cy="310.21" r="2.85" fill="#2d89f5"/><circle cx="408.69" cy="310.21" r="2.85" fill="#2d8af4"/><circle cx="414.43" cy="310.21" r="2.85" fill="#2d8cf3"/><circle cx="420.17" cy="310.21" r="2.85" fill="#2d8df2"/><circle cx="425.91" cy="310.21" r="2.85" fill="#2c8ef1"/><circle cx="431.66" cy="310.21" r="2.85" fill="#2b91ef"/><circle cx="437.40" cy="310.21" r="2.85" fill="#2a93ed"/><circle cx="328.30" cy="300.39" r="2.85" fill="#2995ec"/><circle cx="334.04" cy="300.39" r="2.85" fill="#2994ed"/><circle cx="339.78" cy="300.39" r="2.85" fill="#2994ed"/><circle cx="345.53" cy="300.39" r="2.85" fill="#2994ed"/><circle cx="351.27" cy="300.39" r="2.85" fill="#2a93ed"/><circle cx="357.01" cy="300.39" r="2.85" fill="#2a93ed"/><circle cx="362.75" cy="300.39" r="2.85" fill="#2a93ed"/><circle cx="368.49" cy="300.39" r="2.85" fill="#2a93ed"/><circle cx="374.24" cy="300.39" r="2.85" fill="#2a93ee"/><circle cx="379.98" cy="300.39" r="2.85" fill="#2a93ee"/><circle cx="385.72" cy="300.39" r="2.85" fill="#2a93ee"/><circle cx="391.46" cy="300.39" r="2.85" fill="#2a93ee"/><circle cx="397.20" cy="300.39" r="2.85" fill="#2a93ee"/><circle cx="402.95" cy="300.39" r="2.85" fill="#2a93ed"/><circle cx="408.69" cy="300.39" r="2.85" fill="#2a93ed"/><circle cx="414.43" cy="300.39" r="2.85" fill="#2a93ed"/><circle cx="420.17" cy="300.39" r="2.85" fill="#2a93ed"/><circle cx="425.91" cy="300.39" r="2.85" fill="#2994ed"/><circle cx="431.66" cy="300.39" r="2.85" fill="#2994ed"/><circle cx="437.40" cy="300.39" r="2.85" fill="#2994ed"/><circle cx="328.30" cy="290.58" r="2.85" fill="#259be8"/><circle cx="334.04" cy="290.58" r="2.85" fill="#259be8"/><circle cx="339.78" cy="290.58" r="2.85" fill="#259be8"/><circle cx="345.53" cy="290.58" r="2.85" fill="#259be7"/><circle cx="351.27" cy="290.58" r="2.85" fill="#249de7"/><circle cx="357.01" cy="290.58" r="2.85" fill="#249fe5"/><circle cx="362.75" cy="290.58" r="2.85" fill="#21a3e3"/><circle cx="368.49" cy="290.58" r="2.85" fill="#1ea7e1"/><circle cx="374.24" cy="290.58" r="2.85" fill="#1da9e0"/><circle cx="379.98" cy="290.58" r="2.85" fill="#1da9e0"/><circle cx="385.72" cy="290.58" r="2.85" fill="#1da9e0"/><circle cx="391.46" cy="290.58" r="2.85" fill="#1da9e0"/><circle cx="397.20" cy="290.58" r="2.85" fill="#1da9e0"/><circle cx="402.95" cy="290.58" r="2.85" fill="#1ea7e1"/><circle cx="408.69" cy="290.58" r="2.85" fill="#21a3e3"/><circle cx="414.43" cy="290.58" r="2.85" fill="#249fe5"/><circle cx="420.17" cy="290.58" r="2.85" fill="#249de7"/><circle cx="425.91" cy="290.58" r="2.85" fill="#259be7"/><circle cx="431.66" cy="290.58" r="2.85" fill="#259be8"/><circle cx="437.40" cy="290.58" r="2.85" fill="#259be8"/><circle cx="328.30" cy="280.76" r="2.85" fill="#2b92ee"/><circle cx="334.04" cy="280.76" r="2.85" fill="#2b92ee"/><circle cx="339.78" cy="280.76" r="2.85" fill="#2b92ee"/><circle cx="345.53" cy="280.76" r="2.85" fill="#2994ed"/><circle cx="351.27" cy="280.76" r="2.85" fill="#259be8"/><circle cx="357.01" cy="280.76" r="2.85" fill="#20a4e3"/><circle cx="362.75" cy="280.76" r="2.85" fill="#19acdc"/><circle cx="368.49" cy="280.76" r="2.85" fill="#09b4d1"/><circle cx="374.24" cy="280.76" r="2.85" fill="#02bac4"/><circle cx="379.98" cy="280.76" r="2.85" fill="#0fbeba"/><circle cx="385.72" cy="280.76" r="2.85" fill="#17bfb6"/><circle cx="391.46" cy="280.76" r="2.85" fill="#0fbeba"/><circle cx="397.20" cy="280.76" r="2.85" fill="#02bac4"/><circle cx="402.95" cy="280.76" r="2.85" fill="#09b4d1"/><circle cx="408.69" cy="280.76" r="2.85" fill="#19acdc"/><circle cx="414.43" cy="280.76" r="2.85" fill="#20a4e3"/><circle cx="420.17" cy="280.76" r="2.85" fill="#259be8"/><circle cx="425.91" cy="280.76" r="2.85" fill="#2994ed"/><circle cx="431.66" cy="280.76" r="2.85" fill="#2b92ee"/><circle cx="437.40" cy="280.76" r="2.85" fill="#2b92ee"/><circle cx="328.30" cy="270.95" r="2.85" fill="#2d89f5"/><circle cx="334.04" cy="270.95" r="2.85" fill="#2d89f5"/><circle cx="339.78" cy="270.95" r="2.85" fill="#2d8bf4"/><circle cx="345.53" cy="270.95" r="2.85" fill="#2c8ef1"/><circle cx="351.27" cy="270.95" r="2.85" fill="#2896ec"/><circle cx="357.01" cy="270.95" r="2.85" fill="#21a3e3"/><circle cx="362.75" cy="270.95" r="2.85" fill="#15afd8"/><circle cx="368.49" cy="270.95" r="2.85" fill="#03bbc3"/><circle cx="374.24" cy="270.95" r="2.85" fill="#28c3aa"/><circle cx="379.98" cy="270.95" r="2.85" fill="#33c79d"/><circle cx="385.72" cy="270.95" r="2.85" fill="#3ac994"/><circle cx="391.46" cy="270.95" r="2.85" fill="#33c79d"/><circle cx="397.20" cy="270.95" r="2.85" fill="#28c3aa"/><circle cx="402.95" cy="270.95" r="2.85" fill="#03bbc3"/><circle cx="408.69" cy="270.95" r="2.85" fill="#15afd8"/><circle cx="414.43" cy="270.95" r="2.85" fill="#21a3e3"/><circle cx="420.17" cy="270.95" r="2.85" fill="#2896ec"/><circle cx="425.91" cy="270.95" r="2.85" fill="#2c8ef1"/><circle cx="431.66" cy="270.95" r="2.85" fill="#2d8bf4"/><circle cx="437.40" cy="270.95" r="2.85" fill="#2d89f5"/><circle cx="328.30" cy="261.13" r="2.85" fill="#2e86f7"/><circle cx="334.04" cy="261.13" r="2.85" fill="#2e86f7"/><circle cx="339.78" cy="261.13" r="2.85" fill="#2d87f7"/><circle cx="345.53" cy="261.13" r="2.85" fill="#2d8bf3"/><circle cx="351.27" cy="261.13" r="2.85" fill="#2994ed"/><circle cx="357.01" cy="261.13" r="2.85" fill="#22a2e4"/><circle cx="362.75" cy="261.13" r="2.85" fill="#12b1d7"/><circle cx="368.49" cy="261.13" r="2.85" fill="#07bcbf"/><circle cx="374.24" cy="261.13" r="2.85" fill="#29c3aa"/><circle cx="379.98" cy="261.13" r="2.85" fill="#36c899"/><circle cx="385.72" cy="261.13" r="2.85" fill="#3ac993"/><circle cx="391.46" cy="261.13" r="2.85" fill="#36c899"/><circle cx="397.20" cy="261.13" r="2.85" fill="#29c3aa"/><circle cx="402.95" cy="261.13" r="2.85" fill="#07bcbf"/><circle cx="408.69" cy="261.13" r="2.85" fill="#12b1d7"/><circle cx="414.43" cy="261.13" r="2.85" fill="#22a2e4"/><circle cx="420.17" cy="261.13" r="2.85" fill="#2994ed"/><circle cx="425.91" cy="261.13" r="2.85" fill="#2d8bf3"/><circle cx="431.66" cy="261.13" r="2.85" fill="#2d87f7"/><circle cx="437.40" cy="261.13" r="2.85" fill="#2e86f7"/><circle cx="328.30" cy="251.32" r="2.85" fill="#2e84f9"/><circle cx="334.04" cy="251.32" r="2.85" fill="#2e84f8"/><circle cx="339.78" cy="251.32" r="2.85" fill="#2e86f8"/><circle cx="345.53" cy="251.32" r="2.85" fill="#2d88f6"/><circle cx="351.27" cy="251.32" r="2.85" fill="#2c8ff1"/><circle cx="357.01" cy="251.32" r="2.85" fill="#259de7"/><circle cx="362.75" cy="251.32" r="2.85" fill="#1da8e0"/><circle cx="368.49" cy="251.32" r="2.85" fill="#07b5d0"/><circle cx="374.24" cy="251.32" r="2.85" fill="#0bbdbc"/><circle cx="379.98" cy="251.32" r="2.85" fill="#25c2ad"/><circle cx="385.72" cy="251.32" r="2.85" fill="#2bc3a8"/><circle cx="391.46" cy="251.32" r="2.85" fill="#25c2ad"/><circle cx="397.20" cy="251.32" r="2.85" fill="#0bbdbc"/><circle cx="402.95" cy="251.32" r="2.85" fill="#07b5d0"/><circle cx="408.69" cy="251.32" r="2.85" fill="#1da8e0"/><circle cx="414.43" cy="251.32" r="2.85" fill="#259de7"/><circle cx="420.17" cy="251.32" r="2.85" fill="#2c8ff1"/><circle cx="425.91" cy="251.32" r="2.85" fill="#2d88f6"/><circle cx="431.66" cy="251.32" r="2.85" fill="#2e86f8"/><circle cx="437.40" cy="251.32" r="2.85" fill="#2e84f8"/><circle cx="328.30" cy="241.50" r="2.85" fill="#2f82f9"/><circle cx="334.04" cy="241.50" r="2.85" fill="#2f82f9"/><circle cx="339.78" cy="241.50" r="2.85" fill="#2e83f9"/><circle cx="345.53" cy="241.50" r="2.85" fill="#2e85f8"/><circle cx="351.27" cy="241.50" r="2.85" fill="#2d8af4"/><circle cx="357.01" cy="241.50" r="2.85" fill="#2b92ee"/><circle cx="362.75" cy="241.50" r="2.85" fill="#259ce7"/><circle cx="368.49" cy="241.50" r="2.85" fill="#1fa6e2"/><circle cx="374.24" cy="241.50" r="2.85" fill="#19addc"/><circle cx="379.98" cy="241.50" r="2.85" fill="#11b1d6"/><circle cx="385.72" cy="241.50" r="2.85" fill="#0bb3d2"/><circle cx="391.46" cy="241.50" r="2.85" fill="#11b1d6"/><circle cx="397.20" cy="241.50" r="2.85" fill="#19addc"/><circle cx="402.95" cy="241.50" r="2.85" fill="#1fa6e2"/><circle cx="408.69" cy="241.50" r="2.85" fill="#259ce7"/><circle cx="414.43" cy="241.50" r="2.85" fill="#2b92ee"/><circle cx="420.17" cy="241.50" r="2.85" fill="#2d8af4"/><circle cx="425.91" cy="241.50" r="2.85" fill="#2e85f8"/><circle cx="431.66" cy="241.50" r="2.85" fill="#2e83f9"/><circle cx="437.40" cy="241.50" r="2.85" fill="#2f82f9"/></g>
<path d="M211.70 54.80L229.71 44.92" stroke="#ff0000" stroke-width="1.60" fill="none"/><path d="M234.50 42.30L229.10 48.68L229.03 45.30L226.22 43.42Z" fill="#ff0000"/><path d="M211.70 54.80L202.25 37.77" stroke="#ff0000" stroke-width="1.60" fill="none"/><path d="M199.60 33.00L206.01 38.36L202.63 38.46L200.76 41.28Z" fill="#ff0000"/><path d="M211.70 54.80L211.70 54.80" stroke="#ff0000" stroke-width="1.5" stroke-linecap="square"/><g class="r" font-size="12" fill="#ff0000"><text transform="translate(192.60 29.6) scale(0.87 1)" font-size="12.6">P2</text><text transform="translate(235.60 40.5) scale(0.87 1)" font-size="12.6">P1</text><text x="209.60" y="47.7" font-size="11.5">90°</text></g><path d="M69.10 181.70L90.34 181.70" stroke="#000000" stroke-width="1.60" fill="none"/><path d="M95.80 181.70L88.00 184.70L89.56 181.70L88.00 178.70Z" fill="#000000"/><path d="M69.10 181.70L56.59 163.50" stroke="#000000" stroke-width="1.60" fill="none"/><path d="M53.50 159.00L60.39 163.73L57.03 164.14L55.45 167.13Z" fill="#000000"/><g class="k" font-size="12" fill="#000000"><text x="45.60" y="164.5" font-style="italic">y</text><text x="90.20" y="191" font-style="italic">x</text><text x="67.40" y="179.1" font-size="11.5">120°</text></g>
<path d="M449.10 54.80L467.11 44.92" stroke="#ff0000" stroke-width="1.60" fill="none"/><path d="M471.90 42.30L466.50 48.68L466.43 45.30L463.62 43.42Z" fill="#ff0000"/><path d="M449.10 54.80L439.65 37.77" stroke="#ff0000" stroke-width="1.60" fill="none"/><path d="M437.00 33.00L443.41 38.36L440.03 38.46L438.16 41.28Z" fill="#ff0000"/><path d="M449.10 54.80L449.10 54.80" stroke="#ff0000" stroke-width="1.5" stroke-linecap="square"/><g class="r" font-size="12" fill="#ff0000"><text transform="translate(430.00 29.6) scale(0.87 1)" font-size="12.6">P2</text><text transform="translate(473.00 40.5) scale(0.87 1)" font-size="12.6">P1</text><text x="447.00" y="47.7" font-size="11.5">90°</text></g><path d="M306.50 181.70L327.74 181.70" stroke="#000000" stroke-width="1.60" fill="none"/><path d="M333.20 181.70L325.40 184.70L326.96 181.70L325.40 178.70Z" fill="#000000"/><path d="M306.50 181.70L293.99 163.50" stroke="#000000" stroke-width="1.60" fill="none"/><path d="M290.90 159.00L297.79 163.73L294.43 164.14L292.85 167.13Z" fill="#000000"/><g class="k" font-size="12" fill="#000000"><text x="283.00" y="164.5" font-style="italic">y</text><text x="327.60" y="191" font-style="italic">x</text><text x="304.80" y="179.1" font-size="11.5">120°</text></g>
<path d="M205.70 282.55L205.70 262.26" stroke="#ff0000" stroke-width="1.60" fill="none"/><path d="M205.70 256.80L208.70 264.60L205.70 263.04L202.70 264.60Z" fill="#ff0000"/><path d="M204.95 281.80L226.94 281.80" stroke="#ff0000" stroke-width="1.60" fill="none"/><path d="M232.40 281.80L224.60 284.80L226.16 281.80L224.60 278.80Z" fill="#ff0000"/><g class="r" font-size="12" fill="#ff0000"><text transform="translate(203.40 253.6) scale(0.87 1)" font-size="12.6">P1</text><text transform="translate(234.40 285.2) scale(0.87 1)" font-size="12.6">P2</text><text x="208.80" y="278.3" font-size="11.5">90°</text></g><path d="M54.70 411.95L54.70 390.76" stroke="#000000" stroke-width="1.60" fill="none"/><path d="M54.70 385.30L57.70 393.10L54.70 391.54L51.70 393.10Z" fill="#000000"/><path d="M53.95 411.20L74.94 411.20" stroke="#000000" stroke-width="1.60" fill="none"/><path d="M80.40 411.20L72.60 414.20L74.16 411.20L72.60 408.20Z" fill="#000000"/><g class="k" font-size="12" fill="#000000"><text x="46.00" y="391.8" font-style="italic">y</text><text x="74.40" y="420.9" font-style="italic">x</text><text x="58.30" y="408.1" font-size="11.5">90°</text></g>
<path d="M443.10 282.55L443.10 262.26" stroke="#ff0000" stroke-width="1.60" fill="none"/><path d="M443.10 256.80L446.10 264.60L443.10 263.04L440.10 264.60Z" fill="#ff0000"/><path d="M442.35 281.80L464.34 281.80" stroke="#ff0000" stroke-width="1.60" fill="none"/><path d="M469.80 281.80L462.00 284.80L463.56 281.80L462.00 278.80Z" fill="#ff0000"/><g class="r" font-size="12" fill="#ff0000"><text transform="translate(440.80 253.6) scale(0.87 1)" font-size="12.6">P1</text><text transform="translate(471.80 285.2) scale(0.87 1)" font-size="12.6">P2</text><text x="446.20" y="278.3" font-size="11.5">90°</text></g><path d="M292.10 411.95L292.10 390.76" stroke="#000000" stroke-width="1.60" fill="none"/><path d="M292.10 385.30L295.10 393.10L292.10 391.54L289.10 393.10Z" fill="#000000"/><path d="M291.35 411.20L312.34 411.20" stroke="#000000" stroke-width="1.60" fill="none"/><path d="M317.80 411.20L310.00 414.20L311.56 411.20L310.00 408.20Z" fill="#000000"/><g class="k" font-size="12" fill="#000000"><text x="283.40" y="391.8" font-style="italic">y</text><text x="311.80" y="420.9" font-style="italic">x</text><text x="295.70" y="408.1" font-size="11.5">90°</text></g>
<defs><linearGradient id="cb" x1="0" y1="0" x2="0" y2="1"><stop offset="0.0000" stop-color="#f9fb15"/><stop offset="0.0159" stop-color="#f7f51b"/><stop offset="0.0317" stop-color="#f6ef20"/><stop offset="0.0476" stop-color="#f5e924"/><stop offset="0.0635" stop-color="#f5e327"/><stop offset="0.0794" stop-color="#f7dc2a"/><stop offset="0.0952" stop-color="#fad62d"/><stop offset="0.1111" stop-color="#fccf30"/><stop offset="0.1270" stop-color="#fec934"/><stop offset="0.1429" stop-color="#fec338"/><stop offset="0.1587" stop-color="#febe3c"/><stop offset="0.1746" stop-color="#f8ba3d"/><stop offset="0.1905" stop-color="#f0ba36"/><stop offset="0.2063" stop-color="#e6bb2d"/><stop offset="0.2222" stop-color="#dcbd29"/><stop offset="0.2381" stop-color="#d1bf27"/><stop offset="0.2540" stop-color="#c5c22a"/><stop offset="0.2698" stop-color="#b9c431"/><stop offset="0.2857" stop-color="#abc739"/><stop offset="0.3016" stop-color="#9dc943"/><stop offset="0.3175" stop-color="#8fcb4e"/><stop offset="0.3333" stop-color="#81cc59"/><stop offset="0.3492" stop-color="#72cd64"/><stop offset="0.3651" stop-color="#64cd6f"/><stop offset="0.3810" stop-color="#57cc7a"/><stop offset="0.3968" stop-color="#4acb84"/><stop offset="0.4127" stop-color="#3fca8e"/><stop offset="0.4286" stop-color="#37c897"/><stop offset="0.4444" stop-color="#31c69f"/><stop offset="0.4603" stop-color="#2cc4a7"/><stop offset="0.4762" stop-color="#24c1ae"/><stop offset="0.4921" stop-color="#19bfb6"/><stop offset="0.5079" stop-color="#0bbdbd"/><stop offset="0.5238" stop-color="#02bac3"/><stop offset="0.5397" stop-color="#01b8ca"/><stop offset="0.5556" stop-color="#08b5d0"/><stop offset="0.5714" stop-color="#12b1d6"/><stop offset="0.5873" stop-color="#18addb"/><stop offset="0.6032" stop-color="#1ca9df"/><stop offset="0.6190" stop-color="#20a5e3"/><stop offset="0.6349" stop-color="#23a0e5"/><stop offset="0.6508" stop-color="#259be8"/><stop offset="0.6667" stop-color="#2797eb"/><stop offset="0.6825" stop-color="#2b91ef"/><stop offset="0.6984" stop-color="#2d8cf3"/><stop offset="0.7143" stop-color="#2e87f7"/><stop offset="0.7302" stop-color="#2f81fa"/><stop offset="0.7460" stop-color="#327cfc"/><stop offset="0.7619" stop-color="#3875fe"/><stop offset="0.7778" stop-color="#3e6fff"/><stop offset="0.7937" stop-color="#4269fe"/><stop offset="0.8095" stop-color="#4563fd"/><stop offset="0.8254" stop-color="#465efb"/><stop offset="0.8413" stop-color="#4758f8"/><stop offset="0.8571" stop-color="#4852f4"/><stop offset="0.8730" stop-color="#484df0"/><stop offset="0.8889" stop-color="#4747eb"/><stop offset="0.9048" stop-color="#4741e5"/><stop offset="0.9206" stop-color="#463cde"/><stop offset="0.9365" stop-color="#4537d5"/><stop offset="0.9524" stop-color="#4332cb"/><stop offset="0.9683" stop-color="#422ec0"/><stop offset="0.9841" stop-color="#402ab4"/><stop offset="1.0000" stop-color="#3e26a8"/></linearGradient></defs>
<rect x="499.50" y="24.40" width="11.90" height="404.60" fill="url(#cb)" stroke="#262626" stroke-width="0.7"/>
<path d="M511.40 429.00h-2M511.40 384.04h-2M511.40 339.09h-2M511.40 294.13h-2M511.40 249.18h-2M511.40 204.22h-2M511.40 159.27h-2M511.40 114.31h-2M511.40 69.36h-2" stroke="#262626" stroke-width="0.7" fill="none"/>
<g class="k" font-size="10.50"><text x="518" y="432.60">-0.3</text><text x="518" y="387.64">-0.25</text><text x="518" y="342.69">-0.2</text><text x="518" y="297.73">-0.15</text><text x="518" y="252.78">-0.1</text><text x="518" y="207.82">-0.05</text><text x="518" y="162.87">0</text><text x="518" y="117.91">0.05</text><text x="518" y="72.96">0.1</text></g>
<text class="k" x="494.4" y="14.8" font-size="11" letter-spacing="0.5" fill="#262626"><tspan font-style="italic">E</tspan><tspan font-size="8.3" dy="6">1</tspan><tspan dy="-6">(eV/Å</tspan><tspan font-size="8.3" dy="-5.4">2</tspan><tspan dy="5.4">)</tspan></text>
<text class="k" x="254.2" y="458.6" font-size="12.1" text-anchor="middle" fill="#262626">Displacement(Å)</text>
<text class="k" transform="translate(12.3,228.4) rotate(-90)" font-size="12.1" text-anchor="middle" fill="#262626">Displacement(Å)</text>
</svg>
</body></html>
